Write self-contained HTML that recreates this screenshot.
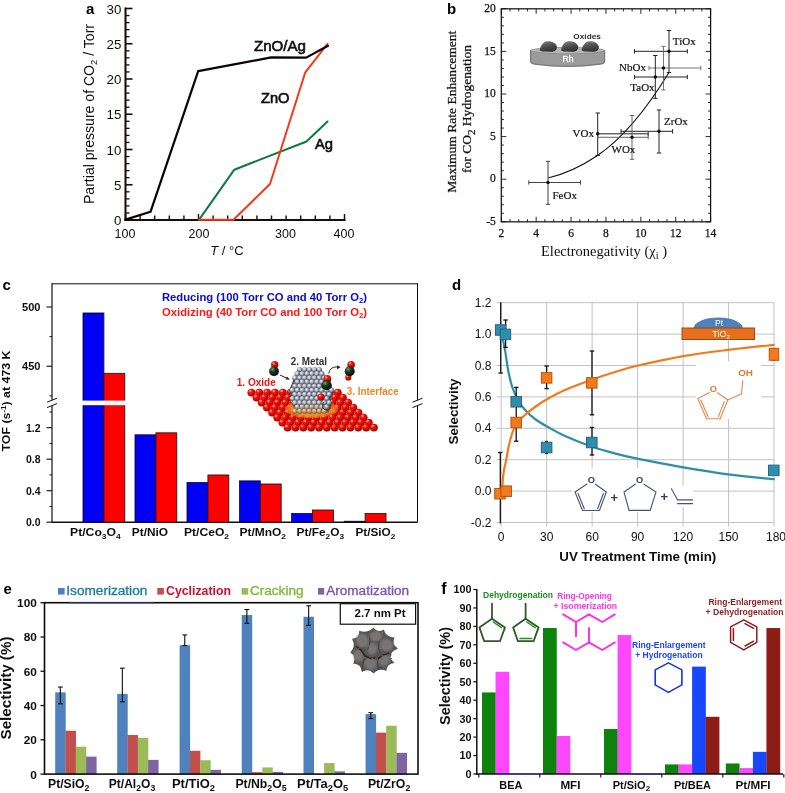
<!DOCTYPE html>
<html lang="en"><head><meta charset="utf-8"><title>Figure</title>
<style>
html,body{margin:0;padding:0;background:#fff;}
body{width:785px;height:793px;overflow:hidden;}
svg{display:block;font-family:"Liberation Sans",Arial,sans-serif;}
</style></head><body>
<svg width="785" height="793" viewBox="0 0 785 793">
<defs>
<radialGradient id="gr" cx="35%" cy="30%" r="70%"><stop offset="0" stop-color="#ffc8c0"/><stop offset="0.3" stop-color="#f01c0c"/><stop offset="0.8" stop-color="#c80000"/><stop offset="1" stop-color="#8a0000"/></radialGradient>
<radialGradient id="gg" cx="40%" cy="35%" r="65%"><stop offset="0" stop-color="#ffffff"/><stop offset="0.3" stop-color="#c2c8d2"/><stop offset="0.7" stop-color="#747c8c"/><stop offset="1" stop-color="#3a4050"/></radialGradient>
<radialGradient id="gd" cx="38%" cy="32%" r="68%"><stop offset="0" stop-color="#c8d0e0"/><stop offset="0.45" stop-color="#69728a"/><stop offset="1" stop-color="#2c3242"/></radialGradient>
<radialGradient id="gk" cx="35%" cy="30%" r="70%"><stop offset="0" stop-color="#7a9a7a"/><stop offset="0.4" stop-color="#1c3a22"/><stop offset="1" stop-color="#05100a"/></radialGradient>
<radialGradient id="go" cx="50%" cy="50%" r="50%"><stop offset="0" stop-color="#f58a10"/><stop offset="0.7" stop-color="#f59418"/><stop offset="1" stop-color="#f59a28" stop-opacity="0.35"/></radialGradient>
<filter id="soft" x="-5%" y="-5%" width="110%" height="110%"><feGaussianBlur stdDeviation="0.45"/></filter>
<filter id="soft3" x="-20%" y="-20%" width="140%" height="140%"><feGaussianBlur stdDeviation="0.9"/></filter>
<linearGradient id="gb" x1="0.2" y1="0" x2="0.6" y2="1"><stop offset="0" stop-color="#808080"/><stop offset="0.55" stop-color="#4a4a4a"/><stop offset="1" stop-color="#2e2e2e"/></linearGradient>
<filter id="gblur" filterUnits="userSpaceOnUse" x="0" y="0" width="785" height="793"><feGaussianBlur stdDeviation="0.38"/></filter>
<filter id="soft2" x="-5%" y="-5%" width="110%" height="110%"><feGaussianBlur stdDeviation="0.3"/></filter>
</defs>
<rect x="0" y="0" width="785" height="793" fill="#ffffff"/>
<g filter="url(#gblur)">

<g id="panel-a">
<text x="86" y="13.6" font-size="15" font-weight="bold" fill="#000" text-anchor="start" >a</text>
<line x1="125.5" y1="7.5" x2="125.5" y2="221.0" stroke="#1a0a0a" stroke-width="2" />
<line x1="124.5" y1="220.0" x2="345.5" y2="220.0" stroke="#1a0a0a" stroke-width="2" />
<line x1="125.5" y1="220.0" x2="132.5" y2="220.0" stroke="#1a0a0a" stroke-width="1.6" />
<line x1="125.5" y1="212.95" x2="129.5" y2="212.95" stroke="#1a0a0a" stroke-width="1.3" />
<line x1="125.5" y1="205.9" x2="129.5" y2="205.9" stroke="#1a0a0a" stroke-width="1.3" />
<line x1="125.5" y1="198.85" x2="129.5" y2="198.85" stroke="#1a0a0a" stroke-width="1.3" />
<line x1="125.5" y1="191.8" x2="129.5" y2="191.8" stroke="#1a0a0a" stroke-width="1.3" />
<line x1="125.5" y1="184.75" x2="132.5" y2="184.75" stroke="#1a0a0a" stroke-width="1.6" />
<line x1="125.5" y1="177.7" x2="129.5" y2="177.7" stroke="#1a0a0a" stroke-width="1.3" />
<line x1="125.5" y1="170.65" x2="129.5" y2="170.65" stroke="#1a0a0a" stroke-width="1.3" />
<line x1="125.5" y1="163.6" x2="129.5" y2="163.6" stroke="#1a0a0a" stroke-width="1.3" />
<line x1="125.5" y1="156.55" x2="129.5" y2="156.55" stroke="#1a0a0a" stroke-width="1.3" />
<line x1="125.5" y1="149.5" x2="132.5" y2="149.5" stroke="#1a0a0a" stroke-width="1.6" />
<line x1="125.5" y1="142.45" x2="129.5" y2="142.45" stroke="#1a0a0a" stroke-width="1.3" />
<line x1="125.5" y1="135.4" x2="129.5" y2="135.4" stroke="#1a0a0a" stroke-width="1.3" />
<line x1="125.5" y1="128.35000000000002" x2="129.5" y2="128.35000000000002" stroke="#1a0a0a" stroke-width="1.3" />
<line x1="125.5" y1="121.3" x2="129.5" y2="121.3" stroke="#1a0a0a" stroke-width="1.3" />
<line x1="125.5" y1="114.25" x2="132.5" y2="114.25" stroke="#1a0a0a" stroke-width="1.6" />
<line x1="125.5" y1="107.2" x2="129.5" y2="107.2" stroke="#1a0a0a" stroke-width="1.3" />
<line x1="125.5" y1="100.15" x2="129.5" y2="100.15" stroke="#1a0a0a" stroke-width="1.3" />
<line x1="125.5" y1="93.10000000000001" x2="129.5" y2="93.10000000000001" stroke="#1a0a0a" stroke-width="1.3" />
<line x1="125.5" y1="86.05000000000001" x2="129.5" y2="86.05000000000001" stroke="#1a0a0a" stroke-width="1.3" />
<line x1="125.5" y1="79.0" x2="132.5" y2="79.0" stroke="#1a0a0a" stroke-width="1.6" />
<line x1="125.5" y1="71.95000000000002" x2="129.5" y2="71.95000000000002" stroke="#1a0a0a" stroke-width="1.3" />
<line x1="125.5" y1="64.9" x2="129.5" y2="64.9" stroke="#1a0a0a" stroke-width="1.3" />
<line x1="125.5" y1="57.849999999999994" x2="129.5" y2="57.849999999999994" stroke="#1a0a0a" stroke-width="1.3" />
<line x1="125.5" y1="50.80000000000001" x2="129.5" y2="50.80000000000001" stroke="#1a0a0a" stroke-width="1.3" />
<line x1="125.5" y1="43.75" x2="132.5" y2="43.75" stroke="#1a0a0a" stroke-width="1.6" />
<line x1="125.5" y1="36.70000000000002" x2="129.5" y2="36.70000000000002" stroke="#1a0a0a" stroke-width="1.3" />
<line x1="125.5" y1="29.650000000000006" x2="129.5" y2="29.650000000000006" stroke="#1a0a0a" stroke-width="1.3" />
<line x1="125.5" y1="22.599999999999994" x2="129.5" y2="22.599999999999994" stroke="#1a0a0a" stroke-width="1.3" />
<line x1="125.5" y1="15.550000000000011" x2="129.5" y2="15.550000000000011" stroke="#1a0a0a" stroke-width="1.3" />
<line x1="125.5" y1="8.5" x2="132.5" y2="8.5" stroke="#1a0a0a" stroke-width="1.6" />
<text x="121.3" y="225.2" font-size="13.3" font-weight="normal" fill="#111" text-anchor="end" >0</text>
<text x="121.3" y="189.95" font-size="13.3" font-weight="normal" fill="#111" text-anchor="end" >5</text>
<text x="121.3" y="154.7" font-size="13.3" font-weight="normal" fill="#111" text-anchor="end" >10</text>
<text x="121.3" y="119.45" font-size="13.3" font-weight="normal" fill="#111" text-anchor="end" >15</text>
<text x="121.3" y="84.2" font-size="13.3" font-weight="normal" fill="#111" text-anchor="end" >20</text>
<text x="121.3" y="48.95" font-size="13.3" font-weight="normal" fill="#111" text-anchor="end" >25</text>
<text x="121.3" y="13.7" font-size="13.3" font-weight="normal" fill="#111" text-anchor="end" >30</text>
<line x1="125.5" y1="220.0" x2="125.5" y2="214.0" stroke="#1a0a0a" stroke-width="1.4" />
<line x1="140.1" y1="220.0" x2="140.1" y2="215.5" stroke="#1a0a0a" stroke-width="1.4" />
<line x1="154.7" y1="220.0" x2="154.7" y2="215.5" stroke="#1a0a0a" stroke-width="1.4" />
<line x1="169.3" y1="220.0" x2="169.3" y2="215.5" stroke="#1a0a0a" stroke-width="1.4" />
<line x1="183.9" y1="220.0" x2="183.9" y2="215.5" stroke="#1a0a0a" stroke-width="1.4" />
<line x1="198.5" y1="220.0" x2="198.5" y2="214.0" stroke="#1a0a0a" stroke-width="1.4" />
<line x1="213.1" y1="220.0" x2="213.1" y2="215.5" stroke="#1a0a0a" stroke-width="1.4" />
<line x1="227.7" y1="220.0" x2="227.7" y2="215.5" stroke="#1a0a0a" stroke-width="1.4" />
<line x1="242.3" y1="220.0" x2="242.3" y2="215.5" stroke="#1a0a0a" stroke-width="1.4" />
<line x1="256.9" y1="220.0" x2="256.9" y2="215.5" stroke="#1a0a0a" stroke-width="1.4" />
<line x1="271.5" y1="220.0" x2="271.5" y2="215.5" stroke="#1a0a0a" stroke-width="1.4" />
<line x1="286.1" y1="220.0" x2="286.1" y2="215.5" stroke="#1a0a0a" stroke-width="1.4" />
<line x1="300.7" y1="220.0" x2="300.7" y2="215.5" stroke="#1a0a0a" stroke-width="1.4" />
<line x1="315.29999999999995" y1="220.0" x2="315.29999999999995" y2="215.5" stroke="#1a0a0a" stroke-width="1.4" />
<line x1="329.9" y1="220.0" x2="329.9" y2="215.5" stroke="#1a0a0a" stroke-width="1.4" />
<line x1="344.5" y1="220.0" x2="344.5" y2="214.0" stroke="#1a0a0a" stroke-width="1.4" />
<text x="125" y="238" font-size="12.5" font-weight="normal" fill="#111" text-anchor="middle" >100</text>
<text x="199" y="238" font-size="12.5" font-weight="normal" fill="#111" text-anchor="middle" >200</text>
<text x="285.5" y="238" font-size="12.5" font-weight="normal" fill="#111" text-anchor="middle" >300</text>
<text x="344" y="238" font-size="12.5" font-weight="normal" fill="#111" text-anchor="middle" >400</text>
<text x="227" y="254.5" font-size="13" text-anchor="middle" fill="#111"><tspan font-style="italic">T</tspan> / °C</text>
<text transform="translate(93.8,114) rotate(-90)" font-size="14" text-anchor="middle" fill="#111" textLength="180" lengthAdjust="spacingAndGlyphs">Partial pressure of CO<tspan font-size="9.5" dy="3">2</tspan><tspan dy="-3"> / Torr</tspan></text>
<polyline points="199.00,219.80 234.30,169.70 306.50,141.50 327.50,121.50" fill="none" stroke="#0f7a3c" stroke-width="2" stroke-linejoin="round" stroke-linecap="round" />
<polyline points="199.00,219.80 233.50,219.80 270.00,184.00 305.30,72.30 327.50,43.80" fill="none" stroke="#f03a1e" stroke-width="2" stroke-linejoin="round" stroke-linecap="round" />
<polyline points="125.50,219.60 150.50,211.80 198.20,71.20 271.20,57.40 306.20,57.60 328.00,45.80" fill="none" stroke="#0a0606" stroke-width="2.2" stroke-linejoin="round" stroke-linecap="round" />
<text x="254" y="50.8" font-size="14" font-weight="normal" fill="#111" text-anchor="start" textLength="52" lengthAdjust="spacingAndGlyphs" stroke="#111" stroke-width="0.6">ZnO/Ag</text>
<text x="261" y="103.3" font-size="14" font-weight="normal" fill="#111" text-anchor="start" textLength="28.5" lengthAdjust="spacingAndGlyphs" stroke="#111" stroke-width="0.6">ZnO</text>
<text x="315" y="149" font-size="14" font-weight="normal" fill="#111" text-anchor="start" textLength="18" lengthAdjust="spacingAndGlyphs" stroke="#111" stroke-width="0.6">Ag</text>
</g>
<g id='panel-b' font-family='"Liberation Serif", "Times New Roman", serif'>
<text x="447" y="14" font-size="15" font-weight="bold" fill="#000" text-anchor="start" font-family='"Liberation Sans", Arial, sans-serif' >b</text>
<rect x="501.30" y="8.80" width="209.30" height="213.00" fill="none" stroke="#111" stroke-width="1.2" />
<line x1="501.3" y1="221.8" x2="501.3" y2="216.8" stroke="#111" stroke-width="0.9" />
<line x1="501.3" y1="8.8" x2="501.3" y2="13.8" stroke="#111" stroke-width="0.9" />
<line x1="510.02083333333337" y1="221.8" x2="510.02083333333337" y2="219.20000000000002" stroke="#111" stroke-width="0.9" />
<line x1="510.02083333333337" y1="8.8" x2="510.02083333333337" y2="11.4" stroke="#111" stroke-width="0.9" />
<line x1="518.7416666666667" y1="221.8" x2="518.7416666666667" y2="219.20000000000002" stroke="#111" stroke-width="0.9" />
<line x1="518.7416666666667" y1="8.8" x2="518.7416666666667" y2="11.4" stroke="#111" stroke-width="0.9" />
<line x1="527.4625" y1="221.8" x2="527.4625" y2="219.20000000000002" stroke="#111" stroke-width="0.9" />
<line x1="527.4625" y1="8.8" x2="527.4625" y2="11.4" stroke="#111" stroke-width="0.9" />
<line x1="536.1833333333334" y1="221.8" x2="536.1833333333334" y2="216.8" stroke="#111" stroke-width="0.9" />
<line x1="536.1833333333334" y1="8.8" x2="536.1833333333334" y2="13.8" stroke="#111" stroke-width="0.9" />
<line x1="544.9041666666667" y1="221.8" x2="544.9041666666667" y2="219.20000000000002" stroke="#111" stroke-width="0.9" />
<line x1="544.9041666666667" y1="8.8" x2="544.9041666666667" y2="11.4" stroke="#111" stroke-width="0.9" />
<line x1="553.625" y1="221.8" x2="553.625" y2="219.20000000000002" stroke="#111" stroke-width="0.9" />
<line x1="553.625" y1="8.8" x2="553.625" y2="11.4" stroke="#111" stroke-width="0.9" />
<line x1="562.3458333333333" y1="221.8" x2="562.3458333333333" y2="219.20000000000002" stroke="#111" stroke-width="0.9" />
<line x1="562.3458333333333" y1="8.8" x2="562.3458333333333" y2="11.4" stroke="#111" stroke-width="0.9" />
<line x1="571.0666666666667" y1="221.8" x2="571.0666666666667" y2="216.8" stroke="#111" stroke-width="0.9" />
<line x1="571.0666666666667" y1="8.8" x2="571.0666666666667" y2="13.8" stroke="#111" stroke-width="0.9" />
<line x1="579.7875" y1="221.8" x2="579.7875" y2="219.20000000000002" stroke="#111" stroke-width="0.9" />
<line x1="579.7875" y1="8.8" x2="579.7875" y2="11.4" stroke="#111" stroke-width="0.9" />
<line x1="588.5083333333333" y1="221.8" x2="588.5083333333333" y2="219.20000000000002" stroke="#111" stroke-width="0.9" />
<line x1="588.5083333333333" y1="8.8" x2="588.5083333333333" y2="11.4" stroke="#111" stroke-width="0.9" />
<line x1="597.2291666666667" y1="221.8" x2="597.2291666666667" y2="219.20000000000002" stroke="#111" stroke-width="0.9" />
<line x1="597.2291666666667" y1="8.8" x2="597.2291666666667" y2="11.4" stroke="#111" stroke-width="0.9" />
<line x1="605.95" y1="221.8" x2="605.95" y2="216.8" stroke="#111" stroke-width="0.9" />
<line x1="605.95" y1="8.8" x2="605.95" y2="13.8" stroke="#111" stroke-width="0.9" />
<line x1="614.6708333333333" y1="221.8" x2="614.6708333333333" y2="219.20000000000002" stroke="#111" stroke-width="0.9" />
<line x1="614.6708333333333" y1="8.8" x2="614.6708333333333" y2="11.4" stroke="#111" stroke-width="0.9" />
<line x1="623.3916666666667" y1="221.8" x2="623.3916666666667" y2="219.20000000000002" stroke="#111" stroke-width="0.9" />
<line x1="623.3916666666667" y1="8.8" x2="623.3916666666667" y2="11.4" stroke="#111" stroke-width="0.9" />
<line x1="632.1125" y1="221.8" x2="632.1125" y2="219.20000000000002" stroke="#111" stroke-width="0.9" />
<line x1="632.1125" y1="8.8" x2="632.1125" y2="11.4" stroke="#111" stroke-width="0.9" />
<line x1="640.8333333333334" y1="221.8" x2="640.8333333333334" y2="216.8" stroke="#111" stroke-width="0.9" />
<line x1="640.8333333333334" y1="8.8" x2="640.8333333333334" y2="13.8" stroke="#111" stroke-width="0.9" />
<line x1="649.5541666666667" y1="221.8" x2="649.5541666666667" y2="219.20000000000002" stroke="#111" stroke-width="0.9" />
<line x1="649.5541666666667" y1="8.8" x2="649.5541666666667" y2="11.4" stroke="#111" stroke-width="0.9" />
<line x1="658.275" y1="221.8" x2="658.275" y2="219.20000000000002" stroke="#111" stroke-width="0.9" />
<line x1="658.275" y1="8.8" x2="658.275" y2="11.4" stroke="#111" stroke-width="0.9" />
<line x1="666.9958333333334" y1="221.8" x2="666.9958333333334" y2="219.20000000000002" stroke="#111" stroke-width="0.9" />
<line x1="666.9958333333334" y1="8.8" x2="666.9958333333334" y2="11.4" stroke="#111" stroke-width="0.9" />
<line x1="675.7166666666667" y1="221.8" x2="675.7166666666667" y2="216.8" stroke="#111" stroke-width="0.9" />
<line x1="675.7166666666667" y1="8.8" x2="675.7166666666667" y2="13.8" stroke="#111" stroke-width="0.9" />
<line x1="684.4375" y1="221.8" x2="684.4375" y2="219.20000000000002" stroke="#111" stroke-width="0.9" />
<line x1="684.4375" y1="8.8" x2="684.4375" y2="11.4" stroke="#111" stroke-width="0.9" />
<line x1="693.1583333333333" y1="221.8" x2="693.1583333333333" y2="219.20000000000002" stroke="#111" stroke-width="0.9" />
<line x1="693.1583333333333" y1="8.8" x2="693.1583333333333" y2="11.4" stroke="#111" stroke-width="0.9" />
<line x1="701.8791666666667" y1="221.8" x2="701.8791666666667" y2="219.20000000000002" stroke="#111" stroke-width="0.9" />
<line x1="701.8791666666667" y1="8.8" x2="701.8791666666667" y2="11.4" stroke="#111" stroke-width="0.9" />
<line x1="710.6" y1="221.8" x2="710.6" y2="216.8" stroke="#111" stroke-width="0.9" />
<line x1="710.6" y1="8.8" x2="710.6" y2="13.8" stroke="#111" stroke-width="0.9" />
<line x1="501.3" y1="221.8" x2="506.3" y2="221.8" stroke="#111" stroke-width="0.9" />
<line x1="710.6" y1="221.8" x2="705.6" y2="221.8" stroke="#111" stroke-width="0.9" />
<line x1="501.3" y1="213.28" x2="503.90000000000003" y2="213.28" stroke="#111" stroke-width="0.9" />
<line x1="710.6" y1="213.28" x2="708.0" y2="213.28" stroke="#111" stroke-width="0.9" />
<line x1="501.3" y1="204.76000000000002" x2="503.90000000000003" y2="204.76000000000002" stroke="#111" stroke-width="0.9" />
<line x1="710.6" y1="204.76000000000002" x2="708.0" y2="204.76000000000002" stroke="#111" stroke-width="0.9" />
<line x1="501.3" y1="196.24" x2="503.90000000000003" y2="196.24" stroke="#111" stroke-width="0.9" />
<line x1="710.6" y1="196.24" x2="708.0" y2="196.24" stroke="#111" stroke-width="0.9" />
<line x1="501.3" y1="187.72000000000003" x2="503.90000000000003" y2="187.72000000000003" stroke="#111" stroke-width="0.9" />
<line x1="710.6" y1="187.72000000000003" x2="708.0" y2="187.72000000000003" stroke="#111" stroke-width="0.9" />
<line x1="501.3" y1="179.20000000000002" x2="506.3" y2="179.20000000000002" stroke="#111" stroke-width="0.9" />
<line x1="710.6" y1="179.20000000000002" x2="705.6" y2="179.20000000000002" stroke="#111" stroke-width="0.9" />
<line x1="501.3" y1="170.68" x2="503.90000000000003" y2="170.68" stroke="#111" stroke-width="0.9" />
<line x1="710.6" y1="170.68" x2="708.0" y2="170.68" stroke="#111" stroke-width="0.9" />
<line x1="501.3" y1="162.16000000000003" x2="503.90000000000003" y2="162.16000000000003" stroke="#111" stroke-width="0.9" />
<line x1="710.6" y1="162.16000000000003" x2="708.0" y2="162.16000000000003" stroke="#111" stroke-width="0.9" />
<line x1="501.3" y1="153.64000000000001" x2="503.90000000000003" y2="153.64000000000001" stroke="#111" stroke-width="0.9" />
<line x1="710.6" y1="153.64000000000001" x2="708.0" y2="153.64000000000001" stroke="#111" stroke-width="0.9" />
<line x1="501.3" y1="145.12" x2="503.90000000000003" y2="145.12" stroke="#111" stroke-width="0.9" />
<line x1="710.6" y1="145.12" x2="708.0" y2="145.12" stroke="#111" stroke-width="0.9" />
<line x1="501.3" y1="136.60000000000002" x2="506.3" y2="136.60000000000002" stroke="#111" stroke-width="0.9" />
<line x1="710.6" y1="136.60000000000002" x2="705.6" y2="136.60000000000002" stroke="#111" stroke-width="0.9" />
<line x1="501.3" y1="128.08" x2="503.90000000000003" y2="128.08" stroke="#111" stroke-width="0.9" />
<line x1="710.6" y1="128.08" x2="708.0" y2="128.08" stroke="#111" stroke-width="0.9" />
<line x1="501.3" y1="119.56000000000002" x2="503.90000000000003" y2="119.56000000000002" stroke="#111" stroke-width="0.9" />
<line x1="710.6" y1="119.56000000000002" x2="708.0" y2="119.56000000000002" stroke="#111" stroke-width="0.9" />
<line x1="501.3" y1="111.04" x2="503.90000000000003" y2="111.04" stroke="#111" stroke-width="0.9" />
<line x1="710.6" y1="111.04" x2="708.0" y2="111.04" stroke="#111" stroke-width="0.9" />
<line x1="501.3" y1="102.52000000000001" x2="503.90000000000003" y2="102.52000000000001" stroke="#111" stroke-width="0.9" />
<line x1="710.6" y1="102.52000000000001" x2="708.0" y2="102.52000000000001" stroke="#111" stroke-width="0.9" />
<line x1="501.3" y1="94.00000000000001" x2="506.3" y2="94.00000000000001" stroke="#111" stroke-width="0.9" />
<line x1="710.6" y1="94.00000000000001" x2="705.6" y2="94.00000000000001" stroke="#111" stroke-width="0.9" />
<line x1="501.3" y1="85.48000000000002" x2="503.90000000000003" y2="85.48000000000002" stroke="#111" stroke-width="0.9" />
<line x1="710.6" y1="85.48000000000002" x2="708.0" y2="85.48000000000002" stroke="#111" stroke-width="0.9" />
<line x1="501.3" y1="76.96000000000001" x2="503.90000000000003" y2="76.96000000000001" stroke="#111" stroke-width="0.9" />
<line x1="710.6" y1="76.96000000000001" x2="708.0" y2="76.96000000000001" stroke="#111" stroke-width="0.9" />
<line x1="501.3" y1="68.44" x2="503.90000000000003" y2="68.44" stroke="#111" stroke-width="0.9" />
<line x1="710.6" y1="68.44" x2="708.0" y2="68.44" stroke="#111" stroke-width="0.9" />
<line x1="501.3" y1="59.920000000000016" x2="503.90000000000003" y2="59.920000000000016" stroke="#111" stroke-width="0.9" />
<line x1="710.6" y1="59.920000000000016" x2="708.0" y2="59.920000000000016" stroke="#111" stroke-width="0.9" />
<line x1="501.3" y1="51.400000000000006" x2="506.3" y2="51.400000000000006" stroke="#111" stroke-width="0.9" />
<line x1="710.6" y1="51.400000000000006" x2="705.6" y2="51.400000000000006" stroke="#111" stroke-width="0.9" />
<line x1="501.3" y1="42.880000000000024" x2="503.90000000000003" y2="42.880000000000024" stroke="#111" stroke-width="0.9" />
<line x1="710.6" y1="42.880000000000024" x2="708.0" y2="42.880000000000024" stroke="#111" stroke-width="0.9" />
<line x1="501.3" y1="34.360000000000014" x2="503.90000000000003" y2="34.360000000000014" stroke="#111" stroke-width="0.9" />
<line x1="710.6" y1="34.360000000000014" x2="708.0" y2="34.360000000000014" stroke="#111" stroke-width="0.9" />
<line x1="501.3" y1="25.840000000000003" x2="503.90000000000003" y2="25.840000000000003" stroke="#111" stroke-width="0.9" />
<line x1="710.6" y1="25.840000000000003" x2="708.0" y2="25.840000000000003" stroke="#111" stroke-width="0.9" />
<line x1="501.3" y1="17.32000000000002" x2="503.90000000000003" y2="17.32000000000002" stroke="#111" stroke-width="0.9" />
<line x1="710.6" y1="17.32000000000002" x2="708.0" y2="17.32000000000002" stroke="#111" stroke-width="0.9" />
<line x1="501.3" y1="8.800000000000011" x2="506.3" y2="8.800000000000011" stroke="#111" stroke-width="0.9" />
<line x1="710.6" y1="8.800000000000011" x2="705.6" y2="8.800000000000011" stroke="#111" stroke-width="0.9" />
<text x="495.8" y="12.00000000000001" font-size="11.5" font-weight="normal" fill="#111" text-anchor="end" stroke="#111" stroke-width="0.25">20</text>
<text x="495.8" y="54.60000000000001" font-size="11.5" font-weight="normal" fill="#111" text-anchor="end" stroke="#111" stroke-width="0.25">15</text>
<text x="495.8" y="97.20000000000002" font-size="11.5" font-weight="normal" fill="#111" text-anchor="end" stroke="#111" stroke-width="0.25">10</text>
<text x="495.8" y="139.8" font-size="11.5" font-weight="normal" fill="#111" text-anchor="end" stroke="#111" stroke-width="0.25">5</text>
<text x="495.8" y="182.4" font-size="11.5" font-weight="normal" fill="#111" text-anchor="end" stroke="#111" stroke-width="0.25">0</text>
<text x="495.8" y="225.0" font-size="11.5" font-weight="normal" fill="#111" text-anchor="end" stroke="#111" stroke-width="0.25">-5</text>
<text x="501.3" y="237.3" font-size="11.5" font-weight="normal" fill="#111" text-anchor="middle" stroke="#111" stroke-width="0.25">2</text>
<text x="536.1833333333334" y="237.3" font-size="11.5" font-weight="normal" fill="#111" text-anchor="middle" stroke="#111" stroke-width="0.25">4</text>
<text x="571.0666666666667" y="237.3" font-size="11.5" font-weight="normal" fill="#111" text-anchor="middle" stroke="#111" stroke-width="0.25">6</text>
<text x="605.95" y="237.3" font-size="11.5" font-weight="normal" fill="#111" text-anchor="middle" stroke="#111" stroke-width="0.25">8</text>
<text x="640.8333333333334" y="237.3" font-size="11.5" font-weight="normal" fill="#111" text-anchor="middle" stroke="#111" stroke-width="0.25">10</text>
<text x="675.7166666666667" y="237.3" font-size="11.5" font-weight="normal" fill="#111" text-anchor="middle" stroke="#111" stroke-width="0.25">12</text>
<text x="710.6" y="237.3" font-size="11.5" font-weight="normal" fill="#111" text-anchor="middle" stroke="#111" stroke-width="0.25">14</text>
<text x="541" y="256" font-size="14" fill="#111" textLength="126" lengthAdjust="spacingAndGlyphs">Electronegativity (χ<tspan font-size="10" dy="3">i</tspan><tspan dy="-3"> )</tspan></text>
<text transform="translate(455.5,111.7) rotate(-90)" font-size="13.5" text-anchor="middle" fill="#111" textLength="162" lengthAdjust="spacingAndGlyphs" stroke="#111" stroke-width="0.25">Maximum Rate Enhancement</text>
<text transform="translate(471,109) rotate(-90)" font-size="13.5" text-anchor="middle" fill="#111" textLength="128" lengthAdjust="spacingAndGlyphs" stroke="#111" stroke-width="0.25">for CO<tspan font-size="11" dy="4">2</tspan><tspan dy="-4"> Hydrogenation</tspan></text>
<path d="M548,178 C 565,174 582,166 597.5,155.5 C 622,139 646,110 669,72.5" fill="none" stroke="#111" stroke-width="1.1"/>
<line x1="634.5" y1="51.3" x2="687.3" y2="51.3" stroke="#222" stroke-width="1.0" />
<line x1="669" y1="30.5" x2="669" y2="72.5" stroke="#222" stroke-width="1.0" />
<line x1="634.5" y1="49.099999999999994" x2="634.5" y2="53.5" stroke="#222" stroke-width="1.0" />
<line x1="687.3" y1="49.099999999999994" x2="687.3" y2="53.5" stroke="#222" stroke-width="1.0" />
<line x1="666.8" y1="30.5" x2="671.2" y2="30.5" stroke="#222" stroke-width="1.0" />
<line x1="666.8" y1="72.5" x2="671.2" y2="72.5" stroke="#222" stroke-width="1.0" />
<circle cx="669" cy="51.3" r="1.7" fill="#111"/>
<line x1="649" y1="68" x2="700.8" y2="68" stroke="#666" stroke-width="0.9" />
<line x1="663.5" y1="46.3" x2="663.5" y2="90" stroke="#666" stroke-width="0.9" />
<line x1="649" y1="65.8" x2="649" y2="70.2" stroke="#666" stroke-width="0.9" />
<line x1="700.8" y1="65.8" x2="700.8" y2="70.2" stroke="#666" stroke-width="0.9" />
<line x1="661.3" y1="46.3" x2="665.7" y2="46.3" stroke="#666" stroke-width="0.9" />
<line x1="661.3" y1="90" x2="665.7" y2="90" stroke="#666" stroke-width="0.9" />
<circle cx="663.5" cy="68" r="1.7" fill="#111"/>
<line x1="634.5" y1="77" x2="687.3" y2="77" stroke="#222" stroke-width="1.0" />
<line x1="655.3" y1="55.5" x2="655.3" y2="98.3" stroke="#222" stroke-width="1.0" />
<line x1="634.5" y1="74.8" x2="634.5" y2="79.2" stroke="#222" stroke-width="1.0" />
<line x1="687.3" y1="74.8" x2="687.3" y2="79.2" stroke="#222" stroke-width="1.0" />
<line x1="653.0999999999999" y1="55.5" x2="657.5" y2="55.5" stroke="#222" stroke-width="1.0" />
<line x1="653.0999999999999" y1="98.3" x2="657.5" y2="98.3" stroke="#222" stroke-width="1.0" />
<circle cx="655.3" cy="77" r="1.7" fill="#111"/>
<line x1="621" y1="131.3" x2="672.6" y2="131.3" stroke="#222" stroke-width="1.0" />
<line x1="659" y1="110" x2="659" y2="153" stroke="#222" stroke-width="1.0" />
<line x1="621" y1="129.10000000000002" x2="621" y2="133.5" stroke="#222" stroke-width="1.0" />
<line x1="672.6" y1="129.10000000000002" x2="672.6" y2="133.5" stroke="#222" stroke-width="1.0" />
<line x1="656.8" y1="110" x2="661.2" y2="110" stroke="#222" stroke-width="1.0" />
<line x1="656.8" y1="153" x2="661.2" y2="153" stroke="#222" stroke-width="1.0" />
<circle cx="659" cy="131.3" r="1.7" fill="#111"/>
<line x1="597.7" y1="133.8" x2="648.2" y2="133.8" stroke="#222" stroke-width="1.0" />
<line x1="597.7" y1="113" x2="597.7" y2="155.5" stroke="#222" stroke-width="1.0" />
<line x1="597.7" y1="131.60000000000002" x2="597.7" y2="136.0" stroke="#222" stroke-width="1.0" />
<line x1="648.2" y1="131.60000000000002" x2="648.2" y2="136.0" stroke="#222" stroke-width="1.0" />
<line x1="595.5" y1="113" x2="599.9000000000001" y2="113" stroke="#222" stroke-width="1.0" />
<line x1="595.5" y1="155.5" x2="599.9000000000001" y2="155.5" stroke="#222" stroke-width="1.0" />
<circle cx="597.7" cy="133.8" r="1.7" fill="#111"/>
<line x1="597.7" y1="137.3" x2="648.2" y2="137.3" stroke="#555" stroke-width="0.9" />
<line x1="632" y1="115.5" x2="632" y2="159.3" stroke="#555" stroke-width="0.9" />
<line x1="597.7" y1="135.10000000000002" x2="597.7" y2="139.5" stroke="#555" stroke-width="0.9" />
<line x1="648.2" y1="135.10000000000002" x2="648.2" y2="139.5" stroke="#555" stroke-width="0.9" />
<line x1="629.8" y1="115.5" x2="634.2" y2="115.5" stroke="#555" stroke-width="0.9" />
<line x1="629.8" y1="159.3" x2="634.2" y2="159.3" stroke="#555" stroke-width="0.9" />
<circle cx="632" cy="137.3" r="1.7" fill="#111"/>
<line x1="528.8" y1="182.5" x2="580.5" y2="182.5" stroke="#444" stroke-width="1.0" />
<line x1="548" y1="161.3" x2="548" y2="204.3" stroke="#444" stroke-width="1.0" />
<line x1="528.8" y1="180.3" x2="528.8" y2="184.7" stroke="#444" stroke-width="1.0" />
<line x1="580.5" y1="180.3" x2="580.5" y2="184.7" stroke="#444" stroke-width="1.0" />
<line x1="545.8" y1="161.3" x2="550.2" y2="161.3" stroke="#444" stroke-width="1.0" />
<line x1="545.8" y1="204.3" x2="550.2" y2="204.3" stroke="#444" stroke-width="1.0" />
<circle cx="548" cy="182.5" r="1.7" fill="#111"/>
<text x="672.8" y="44.5" font-size="11" font-weight="normal" fill="#111" text-anchor="start" stroke="#111" stroke-width="0.2">TiOx</text>
<text x="619" y="70.5" font-size="11" font-weight="normal" fill="#111" text-anchor="start" stroke="#111" stroke-width="0.2">NbOx</text>
<text x="630.3" y="90.5" font-size="11" font-weight="normal" fill="#111" text-anchor="start" stroke="#111" stroke-width="0.2">TaOx</text>
<text x="664" y="124.6" font-size="11" font-weight="normal" fill="#111" text-anchor="start" stroke="#111" stroke-width="0.2">ZrOx</text>
<text x="572.5" y="136.8" font-size="11" font-weight="normal" fill="#111" text-anchor="start" stroke="#111" stroke-width="0.2">VOx</text>
<text x="611.5" y="152.6" font-size="11" font-weight="normal" fill="#111" text-anchor="start" stroke="#111" stroke-width="0.2">WOx</text>
<text x="552.5" y="198.5" font-size="11" font-weight="normal" fill="#111" text-anchor="start" stroke="#111" stroke-width="0.2">FeOx</text>
<g filter="url(#soft2)">
<path d="M530.6,50.5 L530.6,61 Q530.6,63.4 535,64.2 Q568,68.6 600,64.2 Q604.6,63.4 604.6,61 L604.6,50.5 Z" fill="#9b9b9b" stroke="#787878" stroke-width="1.2"/>
<ellipse cx="567.6" cy="50.6" rx="37" ry="3.2" fill="#b6b6b6" stroke="#8a8a8a" stroke-width="0.8"/>
<path d="M539.6999999999999,50.6 C540.3,45 543.8,41.4 547.3,41.2 C551.3,41 555.8,42.6 556.9,46.5 C557.3,49 555.3,51.6 552.3,51.8 L542.3,51.6 Z" fill="url(#gb)"/>
<path d="M561.0,50.6 C561.6,45 565.1,41.4 568.6,41.2 C572.6,41 577.1,42.6 578.2,46.5 C578.6,49 576.6,51.6 573.6,51.8 L563.6,51.6 Z" fill="url(#gb)"/>
<path d="M581.6,50.6 C582.2,45 585.7,41.4 589.2,41.2 C593.2,41 597.7,42.6 598.8000000000001,46.5 C599.2,49 597.2,51.6 594.2,51.8 L584.2,51.6 Z" fill="url(#gb)"/>
</g>
<text x="573.3" y="39.1" font-size="7.8" font-weight="bold" fill="#2e2e2e" text-anchor="start" font-family='"Liberation Sans", Arial, sans-serif' textLength="27.6" lengthAdjust="spacingAndGlyphs" >Oxides</text>
<text x="562.6" y="62" font-size="9.2" font-weight="normal" fill="#fff" text-anchor="start" font-family='"Liberation Sans", Arial, sans-serif' textLength="11" lengthAdjust="spacingAndGlyphs" stroke="#fff" stroke-width="0.3">Rh</text>
</g>
<g id="panel-c">
<text x="2.5" y="289.5" font-size="15" font-weight="bold" fill="#000" text-anchor="start" >c</text>
<line x1="52" y1="283.8" x2="417.5" y2="283.8" stroke="#111" stroke-width="1" />
<line x1="52" y1="283.3" x2="52" y2="522.2" stroke="#111" stroke-width="1.2" />
<line x1="417.5" y1="283.3" x2="417.5" y2="522.2" stroke="#111" stroke-width="1" />
<line x1="52" y1="522.2" x2="417.5" y2="522.2" stroke="#111" stroke-width="1.4" />
<rect x="83.00" y="313.00" width="20.90" height="209.20" fill="#0000f5" stroke="#111" stroke-width="0.8" />
<rect x="103.90" y="373.30" width="20.90" height="148.90" fill="#ff0000" stroke="#111" stroke-width="0.8" />
<rect x="135.00" y="434.79" width="20.90" height="87.41" fill="#0000f5" stroke="#111" stroke-width="0.8" />
<rect x="155.90" y="432.82" width="20.90" height="89.38" fill="#ff0000" stroke="#111" stroke-width="0.8" />
<rect x="187.00" y="482.43" width="20.90" height="39.77" fill="#0000f5" stroke="#111" stroke-width="0.8" />
<rect x="207.90" y="474.95" width="20.90" height="47.25" fill="#ff0000" stroke="#111" stroke-width="0.8" />
<rect x="239.40" y="480.86" width="20.90" height="41.34" fill="#0000f5" stroke="#111" stroke-width="0.8" />
<rect x="260.30" y="484.01" width="20.90" height="38.19" fill="#ff0000" stroke="#111" stroke-width="0.8" />
<rect x="291.60" y="513.38" width="20.90" height="8.82" fill="#0000f5" stroke="#111" stroke-width="0.8" />
<rect x="312.50" y="509.99" width="20.90" height="12.21" fill="#ff0000" stroke="#111" stroke-width="0.8" />
<rect x="344.20" y="521.25" width="20.90" height="0.95" fill="#0000f5" stroke="#111" stroke-width="0.8" />
<rect x="365.10" y="513.38" width="20.90" height="8.82" fill="#ff0000" stroke="#111" stroke-width="0.8" />
<rect x="56.00" y="400.60" width="357.50" height="4.60" fill="#fff" stroke="none" stroke-width="0" />
<rect x="49.00" y="400.20" width="6.00" height="5.40" fill="#fff" stroke="none" stroke-width="0" />
<line x1="47" y1="402.2" x2="57" y2="398.2" stroke="#111" stroke-width="1" />
<line x1="47" y1="407.6" x2="57" y2="403.6" stroke="#111" stroke-width="1" />
<rect x="414.50" y="400.20" width="6.00" height="5.40" fill="#fff" stroke="none" stroke-width="0" />
<line x1="412.5" y1="402.2" x2="422.5" y2="398.2" stroke="#111" stroke-width="1" />
<line x1="412.5" y1="407.6" x2="422.5" y2="403.6" stroke="#111" stroke-width="1" />
<line x1="46.5" y1="522.2" x2="52" y2="522.2" stroke="#111" stroke-width="1.1" />
<text x="40.5" y="526.0" font-size="10.5" font-weight="bold" fill="#111" text-anchor="end" textLength="14.6" lengthAdjust="spacingAndGlyphs" >0.0</text>
<line x1="46.5" y1="490.70000000000005" x2="52" y2="490.70000000000005" stroke="#111" stroke-width="1.1" />
<text x="40.5" y="494.50000000000006" font-size="10.5" font-weight="bold" fill="#111" text-anchor="end" textLength="14.6" lengthAdjust="spacingAndGlyphs" >0.4</text>
<line x1="46.5" y1="459.20000000000005" x2="52" y2="459.20000000000005" stroke="#111" stroke-width="1.1" />
<text x="40.5" y="463.00000000000006" font-size="10.5" font-weight="bold" fill="#111" text-anchor="end" textLength="14.6" lengthAdjust="spacingAndGlyphs" >0.8</text>
<line x1="46.5" y1="427.70000000000005" x2="52" y2="427.70000000000005" stroke="#111" stroke-width="1.1" />
<text x="40.5" y="431.50000000000006" font-size="10.5" font-weight="bold" fill="#111" text-anchor="end" textLength="14.6" lengthAdjust="spacingAndGlyphs" >1.2</text>
<line x1="49.5" y1="506.45000000000005" x2="52" y2="506.45000000000005" stroke="#111" stroke-width="1" />
<line x1="49.5" y1="474.95000000000005" x2="52" y2="474.95000000000005" stroke="#111" stroke-width="1" />
<line x1="49.5" y1="443.45000000000005" x2="52" y2="443.45000000000005" stroke="#111" stroke-width="1" />
<line x1="49.5" y1="411.95000000000005" x2="52" y2="411.95000000000005" stroke="#111" stroke-width="1" />
<line x1="46.5" y1="366.25" x2="52" y2="366.25" stroke="#111" stroke-width="1.1" />
<text x="40.5" y="370.05" font-size="10.5" font-weight="bold" fill="#111" text-anchor="end" textLength="18.5" lengthAdjust="spacingAndGlyphs" >450</text>
<line x1="46.5" y1="307.0" x2="52" y2="307.0" stroke="#111" stroke-width="1.1" />
<text x="40.5" y="310.8" font-size="10.5" font-weight="bold" fill="#111" text-anchor="end" textLength="18.5" lengthAdjust="spacingAndGlyphs" >500</text>
<line x1="49.5" y1="395.875" x2="52" y2="395.875" stroke="#111" stroke-width="1" />
<line x1="49.5" y1="336.625" x2="52" y2="336.625" stroke="#111" stroke-width="1" />
<text transform="translate(10.2,401) rotate(-90)" font-size="11.5" font-weight="bold" text-anchor="middle" fill="#111" textLength="101" lengthAdjust="spacingAndGlyphs">TOF (s<tspan font-size="7.5" dy="-4">-1</tspan><tspan dy="4">) at 473 K</tspan></text>
<text x="70" y="536" font-size="11.5" font-weight="bold" fill="#111" text-anchor="start" textLength="50.8" lengthAdjust="spacingAndGlyphs" >Pt/Co<tspan font-size="8" dy="2.5">3</tspan><tspan dy="-2.5">&#8203;</tspan>O<tspan font-size="8" dy="2.5">4</tspan><tspan dy="-2.5">&#8203;</tspan></text>
<text x="131.8" y="536" font-size="11.5" font-weight="bold" fill="#111" text-anchor="start" textLength="36.3" lengthAdjust="spacingAndGlyphs" >Pt/NiO</text>
<text x="184" y="536" font-size="11.5" font-weight="bold" fill="#111" text-anchor="start" textLength="45" lengthAdjust="spacingAndGlyphs" >Pt/CeO<tspan font-size="8" dy="2.5">2</tspan><tspan dy="-2.5">&#8203;</tspan></text>
<text x="239.6" y="536" font-size="11.5" font-weight="bold" fill="#111" text-anchor="start" textLength="46.4" lengthAdjust="spacingAndGlyphs" >Pt/MnO<tspan font-size="8" dy="2.5">2</tspan><tspan dy="-2.5">&#8203;</tspan></text>
<text x="296.6" y="536" font-size="11.5" font-weight="bold" fill="#111" text-anchor="start" textLength="47.4" lengthAdjust="spacingAndGlyphs" >Pt/Fe<tspan font-size="8" dy="2.5">2</tspan><tspan dy="-2.5">&#8203;</tspan>O<tspan font-size="8" dy="2.5">3</tspan><tspan dy="-2.5">&#8203;</tspan></text>
<text x="355.5" y="536" font-size="11.5" font-weight="bold" fill="#111" text-anchor="start" textLength="39.8" lengthAdjust="spacingAndGlyphs" >Pt/SiO<tspan font-size="8" dy="2.5">2</tspan><tspan dy="-2.5">&#8203;</tspan></text>
<text x="162" y="300.8" font-size="10.3" font-weight="bold" fill="#0808d6" textLength="205" lengthAdjust="spacingAndGlyphs">Reducing (100 Torr CO and 40 Torr O<tspan font-size="7" dy="2">2</tspan><tspan dy="-2">)</tspan></text>
<text x="162" y="316.3" font-size="10.3" font-weight="bold" fill="#ff1414" textLength="205" lengthAdjust="spacingAndGlyphs">Oxidizing (40 Torr CO and 100 Torr O<tspan font-size="7" dy="2">2</tspan><tspan dy="-2">)</tspan></text>
<g filter="url(#soft2)">
<circle cx="251.4" cy="392.6" r="3.95" fill="url(#gr)"/>
<circle cx="259.2" cy="392.6" r="3.95" fill="url(#gr)"/>
<circle cx="267.1" cy="392.6" r="3.95" fill="url(#gr)"/>
<circle cx="274.9" cy="392.6" r="3.95" fill="url(#gr)"/>
<circle cx="282.8" cy="392.6" r="3.95" fill="url(#gr)"/>
<circle cx="290.6" cy="392.6" r="3.95" fill="url(#gr)"/>
<circle cx="298.5" cy="392.6" r="3.95" fill="url(#gr)"/>
<circle cx="306.4" cy="392.6" r="3.95" fill="url(#gr)"/>
<circle cx="314.2" cy="392.6" r="3.95" fill="url(#gr)"/>
<circle cx="322.1" cy="392.6" r="3.95" fill="url(#gr)"/>
<circle cx="329.9" cy="392.6" r="3.95" fill="url(#gr)"/>
<circle cx="337.8" cy="392.6" r="3.95" fill="url(#gr)"/>
<circle cx="256.6" cy="397.6" r="3.95" fill="url(#gr)"/>
<circle cx="264.4" cy="397.6" r="3.95" fill="url(#gr)"/>
<circle cx="272.3" cy="397.6" r="3.95" fill="url(#gr)"/>
<circle cx="280.1" cy="397.6" r="3.95" fill="url(#gr)"/>
<circle cx="288.0" cy="397.6" r="3.95" fill="url(#gr)"/>
<circle cx="295.8" cy="397.6" r="3.95" fill="url(#gr)"/>
<circle cx="303.7" cy="397.6" r="3.95" fill="url(#gr)"/>
<circle cx="311.5" cy="397.6" r="3.95" fill="url(#gr)"/>
<circle cx="319.4" cy="397.6" r="3.95" fill="url(#gr)"/>
<circle cx="327.2" cy="397.6" r="3.95" fill="url(#gr)"/>
<circle cx="335.1" cy="397.6" r="3.95" fill="url(#gr)"/>
<circle cx="342.9" cy="397.6" r="3.95" fill="url(#gr)"/>
<circle cx="261.7" cy="402.6" r="3.95" fill="url(#gr)"/>
<circle cx="269.6" cy="402.6" r="3.95" fill="url(#gr)"/>
<circle cx="277.4" cy="402.6" r="3.95" fill="url(#gr)"/>
<circle cx="285.3" cy="402.6" r="3.95" fill="url(#gr)"/>
<circle cx="293.1" cy="402.6" r="3.95" fill="url(#gr)"/>
<circle cx="301.0" cy="402.6" r="3.95" fill="url(#gr)"/>
<circle cx="308.8" cy="402.6" r="3.95" fill="url(#gr)"/>
<circle cx="316.7" cy="402.6" r="3.95" fill="url(#gr)"/>
<circle cx="324.5" cy="402.6" r="3.95" fill="url(#gr)"/>
<circle cx="332.4" cy="402.6" r="3.95" fill="url(#gr)"/>
<circle cx="340.2" cy="402.6" r="3.95" fill="url(#gr)"/>
<circle cx="348.1" cy="402.6" r="3.95" fill="url(#gr)"/>
<circle cx="266.9" cy="407.6" r="3.95" fill="url(#gr)"/>
<circle cx="274.8" cy="407.6" r="3.95" fill="url(#gr)"/>
<circle cx="282.6" cy="407.6" r="3.95" fill="url(#gr)"/>
<circle cx="290.5" cy="407.6" r="3.95" fill="url(#gr)"/>
<circle cx="298.3" cy="407.6" r="3.95" fill="url(#gr)"/>
<circle cx="306.2" cy="407.6" r="3.95" fill="url(#gr)"/>
<circle cx="314.0" cy="407.6" r="3.95" fill="url(#gr)"/>
<circle cx="321.9" cy="407.6" r="3.95" fill="url(#gr)"/>
<circle cx="329.7" cy="407.6" r="3.95" fill="url(#gr)"/>
<circle cx="337.6" cy="407.6" r="3.95" fill="url(#gr)"/>
<circle cx="345.4" cy="407.6" r="3.95" fill="url(#gr)"/>
<circle cx="353.3" cy="407.6" r="3.95" fill="url(#gr)"/>
<circle cx="272.1" cy="412.6" r="3.95" fill="url(#gr)"/>
<circle cx="279.9" cy="412.6" r="3.95" fill="url(#gr)"/>
<circle cx="287.8" cy="412.6" r="3.95" fill="url(#gr)"/>
<circle cx="295.6" cy="412.6" r="3.95" fill="url(#gr)"/>
<circle cx="303.5" cy="412.6" r="3.95" fill="url(#gr)"/>
<circle cx="311.3" cy="412.6" r="3.95" fill="url(#gr)"/>
<circle cx="319.2" cy="412.6" r="3.95" fill="url(#gr)"/>
<circle cx="327.0" cy="412.6" r="3.95" fill="url(#gr)"/>
<circle cx="334.9" cy="412.6" r="3.95" fill="url(#gr)"/>
<circle cx="342.7" cy="412.6" r="3.95" fill="url(#gr)"/>
<circle cx="350.6" cy="412.6" r="3.95" fill="url(#gr)"/>
<circle cx="358.4" cy="412.6" r="3.95" fill="url(#gr)"/>
<circle cx="277.2" cy="417.6" r="3.95" fill="url(#gr)"/>
<circle cx="285.1" cy="417.6" r="3.95" fill="url(#gr)"/>
<circle cx="292.9" cy="417.6" r="3.95" fill="url(#gr)"/>
<circle cx="300.8" cy="417.6" r="3.95" fill="url(#gr)"/>
<circle cx="308.6" cy="417.6" r="3.95" fill="url(#gr)"/>
<circle cx="316.5" cy="417.6" r="3.95" fill="url(#gr)"/>
<circle cx="324.4" cy="417.6" r="3.95" fill="url(#gr)"/>
<circle cx="332.2" cy="417.6" r="3.95" fill="url(#gr)"/>
<circle cx="340.1" cy="417.6" r="3.95" fill="url(#gr)"/>
<circle cx="347.9" cy="417.6" r="3.95" fill="url(#gr)"/>
<circle cx="355.8" cy="417.6" r="3.95" fill="url(#gr)"/>
<circle cx="363.6" cy="417.6" r="3.95" fill="url(#gr)"/>
<circle cx="282.4" cy="422.6" r="3.95" fill="url(#gr)"/>
<circle cx="290.3" cy="422.6" r="3.95" fill="url(#gr)"/>
<circle cx="298.1" cy="422.6" r="3.95" fill="url(#gr)"/>
<circle cx="306.0" cy="422.6" r="3.95" fill="url(#gr)"/>
<circle cx="313.8" cy="422.6" r="3.95" fill="url(#gr)"/>
<circle cx="321.7" cy="422.6" r="3.95" fill="url(#gr)"/>
<circle cx="329.5" cy="422.6" r="3.95" fill="url(#gr)"/>
<circle cx="337.4" cy="422.6" r="3.95" fill="url(#gr)"/>
<circle cx="345.2" cy="422.6" r="3.95" fill="url(#gr)"/>
<circle cx="353.1" cy="422.6" r="3.95" fill="url(#gr)"/>
<circle cx="360.9" cy="422.6" r="3.95" fill="url(#gr)"/>
<circle cx="368.8" cy="422.6" r="3.95" fill="url(#gr)"/>
<circle cx="287.6" cy="427.6" r="3.95" fill="url(#gr)"/>
<circle cx="295.4" cy="427.6" r="3.95" fill="url(#gr)"/>
<circle cx="303.3" cy="427.6" r="3.95" fill="url(#gr)"/>
<circle cx="311.1" cy="427.6" r="3.95" fill="url(#gr)"/>
<circle cx="319.0" cy="427.6" r="3.95" fill="url(#gr)"/>
<circle cx="326.8" cy="427.6" r="3.95" fill="url(#gr)"/>
<circle cx="334.7" cy="427.6" r="3.95" fill="url(#gr)"/>
<circle cx="342.5" cy="427.6" r="3.95" fill="url(#gr)"/>
<circle cx="350.4" cy="427.6" r="3.95" fill="url(#gr)"/>
<circle cx="358.2" cy="427.6" r="3.95" fill="url(#gr)"/>
<circle cx="366.1" cy="427.6" r="3.95" fill="url(#gr)"/>
<circle cx="373.9" cy="427.6" r="3.95" fill="url(#gr)"/>
<ellipse cx="311.5" cy="409" rx="27" ry="9.3" fill="url(#go)" opacity="0.97"/>
<polygon points="298,368.5 321,368.5 333,389.5 329,412.5 295,412.5 289,390.5" fill="#4a5160"/>
<circle cx="299.7" cy="369.6" r="2.7" fill="url(#gg)"/>
<circle cx="304.6" cy="369.6" r="2.7" fill="url(#gg)"/>
<circle cx="309.5" cy="369.6" r="2.7" fill="url(#gg)"/>
<circle cx="314.4" cy="369.6" r="2.7" fill="url(#gg)"/>
<circle cx="319.3" cy="369.6" r="2.7" fill="url(#gg)"/>
<circle cx="297.2" cy="373.8" r="2.7" fill="url(#gg)"/>
<circle cx="302.1" cy="373.8" r="2.7" fill="url(#gg)"/>
<circle cx="307.0" cy="373.8" r="2.7" fill="url(#gg)"/>
<circle cx="311.9" cy="373.8" r="2.7" fill="url(#gg)"/>
<circle cx="316.8" cy="373.8" r="2.7" fill="url(#gg)"/>
<circle cx="321.7" cy="373.8" r="2.7" fill="url(#gg)"/>
<circle cx="294.8" cy="377.9" r="2.7" fill="url(#gg)"/>
<circle cx="299.7" cy="377.9" r="2.7" fill="url(#gg)"/>
<circle cx="304.6" cy="377.9" r="2.7" fill="url(#gg)"/>
<circle cx="309.5" cy="377.9" r="2.7" fill="url(#gg)"/>
<circle cx="314.4" cy="377.9" r="2.7" fill="url(#gg)"/>
<circle cx="319.3" cy="377.9" r="2.7" fill="url(#gg)"/>
<circle cx="324.2" cy="377.9" r="2.7" fill="url(#gg)"/>
<circle cx="297.2" cy="382.0" r="2.7" fill="url(#gg)"/>
<circle cx="302.1" cy="382.0" r="2.7" fill="url(#gg)"/>
<circle cx="307.0" cy="382.0" r="2.7" fill="url(#gg)"/>
<circle cx="311.9" cy="382.0" r="2.7" fill="url(#gg)"/>
<circle cx="316.8" cy="382.0" r="2.7" fill="url(#gg)"/>
<circle cx="321.7" cy="382.0" r="2.7" fill="url(#gg)"/>
<circle cx="326.6" cy="382.0" r="2.7" fill="url(#gg)"/>
<circle cx="294.8" cy="386.2" r="2.7" fill="url(#gg)"/>
<circle cx="299.7" cy="386.2" r="2.7" fill="url(#gg)"/>
<circle cx="304.6" cy="386.2" r="2.7" fill="url(#gg)"/>
<circle cx="309.5" cy="386.2" r="2.7" fill="url(#gg)"/>
<circle cx="314.4" cy="386.2" r="2.7" fill="url(#gg)"/>
<circle cx="319.3" cy="386.2" r="2.7" fill="url(#gg)"/>
<circle cx="324.2" cy="386.2" r="2.7" fill="url(#gg)"/>
<circle cx="329.1" cy="386.2" r="2.7" fill="url(#gg)"/>
<circle cx="292.3" cy="390.3" r="2.7" fill="url(#gg)"/>
<circle cx="297.2" cy="390.3" r="2.7" fill="url(#gg)"/>
<circle cx="302.1" cy="390.3" r="2.7" fill="url(#gg)"/>
<circle cx="307.0" cy="390.3" r="2.7" fill="url(#gg)"/>
<circle cx="311.9" cy="390.3" r="2.7" fill="url(#gg)"/>
<circle cx="316.8" cy="390.3" r="2.7" fill="url(#gg)"/>
<circle cx="321.7" cy="390.3" r="2.7" fill="url(#gg)"/>
<circle cx="326.6" cy="390.3" r="2.7" fill="url(#gg)"/>
<circle cx="331.5" cy="390.3" r="2.7" fill="url(#gg)"/>
<circle cx="294.8" cy="394.5" r="2.7" fill="url(#gg)"/>
<circle cx="299.7" cy="394.5" r="2.7" fill="url(#gg)"/>
<circle cx="304.6" cy="394.5" r="2.7" fill="url(#gg)"/>
<circle cx="309.5" cy="394.5" r="2.7" fill="url(#gg)"/>
<circle cx="314.4" cy="394.5" r="2.7" fill="url(#gg)"/>
<circle cx="319.3" cy="394.5" r="2.7" fill="url(#gg)"/>
<circle cx="324.2" cy="394.5" r="2.7" fill="url(#gg)"/>
<circle cx="329.1" cy="394.5" r="2.7" fill="url(#gg)"/>
<circle cx="292.3" cy="398.6" r="2.7" fill="url(#gg)"/>
<circle cx="297.2" cy="398.6" r="2.7" fill="url(#gg)"/>
<circle cx="302.1" cy="398.6" r="2.7" fill="url(#gg)"/>
<circle cx="307.0" cy="398.6" r="2.7" fill="url(#gg)"/>
<circle cx="311.9" cy="398.6" r="2.7" fill="url(#gg)"/>
<circle cx="316.8" cy="398.6" r="2.7" fill="url(#gg)"/>
<circle cx="321.7" cy="398.6" r="2.7" fill="url(#gg)"/>
<circle cx="326.6" cy="398.6" r="2.7" fill="url(#gg)"/>
<circle cx="294.8" cy="402.8" r="2.7" fill="url(#gg)"/>
<circle cx="299.7" cy="402.8" r="2.7" fill="url(#gg)"/>
<circle cx="304.6" cy="402.8" r="2.7" fill="url(#gg)"/>
<circle cx="309.5" cy="402.8" r="2.7" fill="url(#gg)"/>
<circle cx="314.4" cy="402.8" r="2.7" fill="url(#gg)"/>
<circle cx="319.3" cy="402.8" r="2.7" fill="url(#gg)"/>
<circle cx="324.2" cy="402.8" r="2.7" fill="url(#gg)"/>
<circle cx="329.1" cy="402.8" r="2.7" fill="url(#gg)"/>
<circle cx="297.2" cy="406.9" r="2.7" fill="url(#gg)"/>
<circle cx="302.1" cy="406.9" r="2.7" fill="url(#gg)"/>
<circle cx="307.0" cy="406.9" r="2.7" fill="url(#gg)"/>
<circle cx="311.9" cy="406.9" r="2.7" fill="url(#gg)"/>
<circle cx="316.8" cy="406.9" r="2.7" fill="url(#gg)"/>
<circle cx="321.7" cy="406.9" r="2.7" fill="url(#gg)"/>
<circle cx="326.6" cy="406.9" r="2.7" fill="url(#gg)"/>
<circle cx="294.8" cy="411.1" r="2.7" fill="url(#gg)"/>
<circle cx="299.7" cy="411.1" r="2.7" fill="url(#gg)"/>
<circle cx="304.6" cy="411.1" r="2.7" fill="url(#gg)"/>
<circle cx="309.5" cy="411.1" r="2.7" fill="url(#gg)"/>
<circle cx="314.4" cy="411.1" r="2.7" fill="url(#gg)"/>
<circle cx="319.3" cy="411.1" r="2.7" fill="url(#gg)"/>
<circle cx="324.2" cy="411.1" r="2.7" fill="url(#gg)"/>
<ellipse cx="311" cy="410.5" rx="21" ry="5.2" fill="#f58a10" opacity="0.28"/>
<circle cx="274.7" cy="364.8" r="3.7" fill="url(#gr)"/>
<circle cx="274" cy="371.2" r="4.9" fill="url(#gk)"/>
<circle cx="321" cy="397" r="3.6" fill="url(#gr)"/>
<circle cx="327.3" cy="378.9" r="3.9" fill="url(#gr)"/>
<circle cx="326.6" cy="385.2" r="5.1" fill="url(#gk)"/>
<circle cx="348.3" cy="377.4" r="3.1" fill="url(#gr)"/>
<circle cx="351.1" cy="364.8" r="3.8" fill="url(#gr)"/>
<circle cx="349.7" cy="371.2" r="5" fill="url(#gk)"/>
</g>
<path d="M280,375 L288.5,379" stroke="#222" stroke-width="1" fill="none"/><path d="M289.8,379.6 L285.6,379.6 L287,376.4 Z" fill="#222"/>
<path d="M328.8,373.6 C329.5,368.5 333,366.5 338.5,367" stroke="#222" stroke-width="1" fill="none"/><path d="M340.6,367.2 L337,365.2 L337,369.2 Z" fill="#222"/>
<path d="M324,402 C321,406 323,410.5 327.5,410 C331,409.5 332,405.5 329.5,404" stroke="#222" stroke-width="0.9" fill="none"/>
<text x="290.8" y="365" font-size="10" font-weight="bold" fill="#333" text-anchor="start" textLength="36.3" lengthAdjust="spacingAndGlyphs" >2. Metal</text>
<text x="236.8" y="386.3" font-size="10" font-weight="bold" fill="#f01414" text-anchor="start" textLength="39" lengthAdjust="spacingAndGlyphs" >1. Oxide</text>
<text x="346.8" y="395" font-size="10" font-weight="bold" fill="#f5821e" text-anchor="start" textLength="52" lengthAdjust="spacingAndGlyphs" >3. Interface</text>
</g>
<g id="panel-d">
<text x="452" y="289.5" font-size="15" font-weight="bold" fill="#000" text-anchor="start" >d</text>
<line x1="496.5" y1="522.5" x2="774.3" y2="522.5" stroke="#c2c2c2" stroke-width="1" />
<text x="491.5" y="526.5" font-size="12" font-weight="normal" fill="#111" text-anchor="end" >-0.2</text>
<line x1="496.5" y1="491.1" x2="774.3" y2="491.1" stroke="#c2c2c2" stroke-width="1" />
<text x="491.5" y="495.1" font-size="12" font-weight="normal" fill="#111" text-anchor="end" >0.0</text>
<line x1="496.5" y1="459.70000000000005" x2="774.3" y2="459.70000000000005" stroke="#c2c2c2" stroke-width="1" />
<text x="491.5" y="463.70000000000005" font-size="12" font-weight="normal" fill="#111" text-anchor="end" >0.2</text>
<line x1="496.5" y1="428.3" x2="774.3" y2="428.3" stroke="#c2c2c2" stroke-width="1" />
<text x="491.5" y="432.3" font-size="12" font-weight="normal" fill="#111" text-anchor="end" >0.4</text>
<line x1="496.5" y1="396.90000000000003" x2="774.3" y2="396.90000000000003" stroke="#c2c2c2" stroke-width="1" />
<text x="491.5" y="400.90000000000003" font-size="12" font-weight="normal" fill="#111" text-anchor="end" >0.6</text>
<line x1="496.5" y1="365.5" x2="774.3" y2="365.5" stroke="#c2c2c2" stroke-width="1" />
<text x="491.5" y="369.5" font-size="12" font-weight="normal" fill="#111" text-anchor="end" >0.8</text>
<line x1="496.5" y1="334.1" x2="774.3" y2="334.1" stroke="#c2c2c2" stroke-width="1" />
<text x="491.5" y="338.1" font-size="12" font-weight="normal" fill="#111" text-anchor="end" >1.0</text>
<line x1="496.5" y1="302.70000000000005" x2="774.3" y2="302.70000000000005" stroke="#c2c2c2" stroke-width="1" />
<text x="491.5" y="306.70000000000005" font-size="12" font-weight="normal" fill="#111" text-anchor="end" >1.2</text>
<line x1="501.2" y1="302.70000000000005" x2="501.2" y2="526.5" stroke="#c2c2c2" stroke-width="1" />
<line x1="546.6666666666666" y1="302.70000000000005" x2="546.6666666666666" y2="526.5" stroke="#c2c2c2" stroke-width="1" />
<line x1="592.1333333333333" y1="302.70000000000005" x2="592.1333333333333" y2="526.5" stroke="#c2c2c2" stroke-width="1" />
<line x1="637.6" y1="302.70000000000005" x2="637.6" y2="526.5" stroke="#c2c2c2" stroke-width="1" />
<line x1="683.0666666666666" y1="302.70000000000005" x2="683.0666666666666" y2="526.5" stroke="#c2c2c2" stroke-width="1" />
<line x1="728.5333333333333" y1="302.70000000000005" x2="728.5333333333333" y2="526.5" stroke="#c2c2c2" stroke-width="1" />
<line x1="774.0" y1="302.70000000000005" x2="774.0" y2="526.5" stroke="#c2c2c2" stroke-width="1" />
<text x="501.2" y="541.3" font-size="12" font-weight="normal" fill="#111" text-anchor="middle" >0</text>
<text x="546.6666666666666" y="541.3" font-size="12" font-weight="normal" fill="#111" text-anchor="middle" >30</text>
<text x="592.1333333333333" y="541.3" font-size="12" font-weight="normal" fill="#111" text-anchor="middle" >60</text>
<text x="637.6" y="541.3" font-size="12" font-weight="normal" fill="#111" text-anchor="middle" >90</text>
<text x="683.0666666666666" y="541.3" font-size="12" font-weight="normal" fill="#111" text-anchor="middle" >120</text>
<text x="728.5333333333333" y="541.3" font-size="12" font-weight="normal" fill="#111" text-anchor="middle" >150</text>
<text x="766" y="541.3" font-size="12" font-weight="normal" fill="#111" text-anchor="start" >180</text>
<rect x="696.00" y="361.50" width="65.00" height="57.50" fill="#fff" stroke="none" stroke-width="0" />
<rect x="572.00" y="468.00" width="96.00" height="44.00" fill="#fff" stroke="none" stroke-width="0" />
<rect x="667.00" y="486.00" width="26.50" height="21.00" fill="#fff" stroke="none" stroke-width="0" />
<text transform="translate(458.3,411.5) rotate(-90)" font-size="13.5" font-weight="bold" text-anchor="middle" fill="#111" textLength="66" lengthAdjust="spacingAndGlyphs">Selectivity</text>
<text x="559.3" y="561" font-size="13.5" font-weight="bold" fill="#111" text-anchor="start" textLength="157" lengthAdjust="spacingAndGlyphs" >UV Treatment Time (min)</text>
<path d="M501.6,328.0 C501.8,329.3 502.1,333.2 502.5,336.0 C502.9,338.8 503.5,342.3 504.0,345.0 C504.5,347.7 504.6,347.9 505.4,352.4 C506.1,356.9 507.3,366.2 508.5,372.0 C509.7,377.8 510.8,382.7 512.4,387.4 C514.0,392.1 515.9,396.3 518.0,400.0 C520.1,403.7 522.1,406.6 524.9,409.8 C527.7,413.0 531.4,416.3 535.0,419.0 C538.6,421.7 541.6,423.4 546.6,426.2 C551.6,429.0 557.4,432.6 565.0,436.0 C572.6,439.4 584.0,443.9 592.3,446.8 C600.6,449.7 607.5,451.5 615.0,453.5 C622.5,455.5 625.8,456.4 637.2,458.7 C648.6,461.0 668.3,464.8 683.4,467.4 C698.5,470.0 712.9,472.4 728.0,474.4 C743.1,476.4 766.2,478.4 773.8,479.2" fill="none" stroke="#2e8ea6" stroke-width="2.2" stroke-linecap="round"/>
<path d="M502.0,494.0 C502.1,491.7 502.5,484.0 502.8,480.0 C503.1,476.0 503.4,473.3 504.0,470.0 C504.6,466.7 505.4,464.2 506.2,460.0 C507.0,455.8 508.0,449.6 509.0,445.0 C510.0,440.4 511.1,436.2 512.4,432.5 C513.7,428.8 514.9,425.9 517.0,423.0 C519.1,420.1 521.9,417.7 524.9,415.0 C527.9,412.3 531.4,409.6 535.0,407.0 C538.6,404.4 541.6,402.3 546.6,399.5 C551.6,396.7 557.4,393.3 565.0,390.0 C572.6,386.7 584.0,382.5 592.3,379.5 C600.6,376.5 607.5,374.3 615.0,372.0 C622.5,369.7 625.8,368.4 637.2,365.8 C648.6,363.2 668.3,358.9 683.4,356.2 C698.5,353.5 712.9,351.8 728.0,349.9 C743.1,348.0 766.2,345.7 773.8,344.9" fill="none" stroke="#f07a1c" stroke-width="2.2" stroke-linecap="round"/>
<line x1="500.7" y1="302.20000000000005" x2="500.7" y2="373" stroke="#111" stroke-width="1.3" />
<line x1="498.5" y1="373" x2="502.9" y2="373" stroke="#111" stroke-width="1.3" />
<line x1="505.6" y1="320" x2="505.6" y2="347.4" stroke="#111" stroke-width="1.3" />
<line x1="503.40000000000003" y1="320" x2="507.8" y2="320" stroke="#111" stroke-width="1.3" />
<line x1="503.40000000000003" y1="347.4" x2="507.8" y2="347.4" stroke="#111" stroke-width="1.3" />
<line x1="516.2" y1="387.4" x2="516.2" y2="441.2" stroke="#111" stroke-width="1.3" />
<line x1="514.0" y1="387.4" x2="518.4000000000001" y2="387.4" stroke="#111" stroke-width="1.3" />
<line x1="514.0" y1="441.2" x2="518.4000000000001" y2="441.2" stroke="#111" stroke-width="1.3" />
<line x1="546.6" y1="366" x2="546.6" y2="388.6" stroke="#111" stroke-width="1.3" />
<line x1="544.4" y1="366" x2="548.8000000000001" y2="366" stroke="#111" stroke-width="1.3" />
<line x1="544.4" y1="388.6" x2="548.8000000000001" y2="388.6" stroke="#111" stroke-width="1.3" />
<line x1="592" y1="351" x2="592" y2="414.8" stroke="#111" stroke-width="1.3" />
<line x1="589.8" y1="351" x2="594.2" y2="351" stroke="#111" stroke-width="1.3" />
<line x1="589.8" y1="414.8" x2="594.2" y2="414.8" stroke="#111" stroke-width="1.3" />
<line x1="500.3" y1="452.5" x2="500.3" y2="523.5" stroke="#111" stroke-width="1.3" />
<line x1="498.1" y1="452.5" x2="502.5" y2="452.5" stroke="#111" stroke-width="1.3" />
<line x1="592" y1="427.5" x2="592" y2="455" stroke="#111" stroke-width="1.3" />
<line x1="589.8" y1="427.5" x2="594.2" y2="427.5" stroke="#111" stroke-width="1.3" />
<line x1="589.8" y1="455" x2="594.2" y2="455" stroke="#111" stroke-width="1.3" />
<line x1="546.6" y1="441.5" x2="546.6" y2="453.5" stroke="#111" stroke-width="1.3" />
<line x1="545.1" y1="441.5" x2="548.1" y2="441.5" stroke="#111" stroke-width="1.3" />
<line x1="545.1" y1="453.5" x2="548.1" y2="453.5" stroke="#111" stroke-width="1.3" />
<line x1="774" y1="349" x2="774" y2="360" stroke="#111" stroke-width="1.3" />
<line x1="772.5" y1="349" x2="775.5" y2="349" stroke="#111" stroke-width="1.3" />
<line x1="772.5" y1="360" x2="775.5" y2="360" stroke="#111" stroke-width="1.3" />
<rect x="495.45" y="324.75" width="10.50" height="10.50" fill="#2e8faa" stroke="#2c5f8e" stroke-width="1" />
<rect x="500.15" y="329.15" width="10.50" height="10.50" fill="#2e8faa" stroke="#2c5f8e" stroke-width="1" />
<rect x="510.95" y="396.55" width="10.50" height="10.50" fill="#2e8faa" stroke="#2c5f8e" stroke-width="1" />
<rect x="510.95" y="417.25" width="10.50" height="10.50" fill="#f07a1e" stroke="#b8560e" stroke-width="1" />
<rect x="541.35" y="372.65" width="10.50" height="10.50" fill="#f07a1e" stroke="#b8560e" stroke-width="1" />
<rect x="586.55" y="377.65" width="10.50" height="10.50" fill="#f07a1e" stroke="#b8560e" stroke-width="1" />
<rect x="541.35" y="442.25" width="10.50" height="10.50" fill="#2e8faa" stroke="#2c5f8e" stroke-width="1" />
<rect x="586.55" y="437.25" width="10.50" height="10.50" fill="#2e8faa" stroke="#2c5f8e" stroke-width="1" />
<rect x="768.55" y="465.15" width="10.50" height="10.50" fill="#2e8faa" stroke="#2c5f8e" stroke-width="1" />
<rect x="494.75" y="488.45" width="10.50" height="10.50" fill="#f07a1e" stroke="#b8560e" stroke-width="1" />
<rect x="500.95" y="485.95" width="10.50" height="10.50" fill="#f07a1e" stroke="#b8560e" stroke-width="1" />
<rect x="769.25" y="348.30" width="9.50" height="12.00" fill="#f07a1e" stroke="#b8560e" stroke-width="1" />
<path d="M693.5,328.3 A24.7,10.8 0 0 1 742.9,328.3 Z" fill="#4f81bd"/>
<rect x="682.00" y="328.00" width="72.50" height="11.50" fill="#e8701a" stroke="#9a4a14" stroke-width="1" />
<text x="719" y="325.8" font-size="8.5" font-weight="normal" fill="#fff" text-anchor="middle" >Pt</text>
<text x="721" y="337.2" font-size="9" fill="#fff" text-anchor="middle">TiO<tspan font-size="6" dy="1.5">2</tspan></text>
<g stroke="#e38a4c" stroke-width="1.1" fill="none" stroke-linecap="round">
<path d="M709.5,392.5 L697.8,398.8 L706.5,418.8 L720.3,418.8 L727.8,400 L717.5,392.8"/>
<path d="M700.8,400.2 L708.3,417"/><path d="M724.3,401.5 L718.4,416.6"/>
<path d="M727.8,400 L741.5,393.8 L742.8,380.5"/>
</g>
<text x="713.4" y="391.6" font-size="9.3" font-weight="bold" fill="#e07a3a" text-anchor="middle" >O</text>
<text x="738.2" y="376.4" font-size="9.7" font-weight="bold" fill="#e07a3a" text-anchor="start" textLength="14.8" lengthAdjust="spacingAndGlyphs" >OH</text>
<g stroke="#46527e" stroke-width="1.1" fill="none" stroke-linecap="round">
<path d="M587,484 L575,492 L582.5,510.5 L599.5,510.5 L606.3,492 L595.5,484.2"/>
<path d="M578,493.5 L584.3,508.8"/><path d="M603.4,493.5 L597.6,508.8"/>
<path d="M635.5,484 L624,492 L629,510.4 L650.2,510.4 L656,492 L644,484.2"/>
<path d="M671.4,488.7 L677.6,499.9 L692.6,499.9"/><path d="M677.6,503.6 L692.6,503.6"/>
</g>
<text x="591.3" y="483.4" font-size="9.3" font-weight="bold" fill="#2f3a6a" text-anchor="middle" >O</text>
<text x="639.7" y="483.4" font-size="9.3" font-weight="bold" fill="#2f3a6a" text-anchor="middle" >O</text>
<text x="614.2" y="501.8" font-size="13" font-weight="bold" fill="#2f3a6a" text-anchor="middle" >+</text>
<text x="664.2" y="501" font-size="13" font-weight="bold" fill="#2f3a6a" text-anchor="middle" >+</text>
</g>
<g id="panel-e">
<text x="3.5" y="593.8" font-size="15" font-weight="bold" fill="#000" text-anchor="start" >e</text>
<rect x="55.20" y="692.34" width="10.50" height="81.76" fill="#4f81bd" stroke="none" stroke-width="0" />
<rect x="65.50" y="730.74" width="10.50" height="43.36" fill="#c0504d" stroke="none" stroke-width="0" />
<rect x="75.80" y="746.68" width="10.50" height="27.42" fill="#9bbb59" stroke="none" stroke-width="0" />
<rect x="86.10" y="756.62" width="10.50" height="17.48" fill="#8064a2" stroke="none" stroke-width="0" />
<line x1="60.35" y1="687.0288" x2="60.35" y2="703.826" stroke="#111" stroke-width="1.1" />
<line x1="57.95" y1="687.0288" x2="62.75" y2="687.0288" stroke="#111" stroke-width="1.1" />
<line x1="57.95" y1="703.826" x2="62.75" y2="703.826" stroke="#111" stroke-width="1.1" />
<rect x="117.20" y="693.88" width="10.50" height="80.22" fill="#4f81bd" stroke="none" stroke-width="0" />
<rect x="127.50" y="735.02" width="10.50" height="39.08" fill="#c0504d" stroke="none" stroke-width="0" />
<rect x="137.80" y="737.76" width="10.50" height="36.34" fill="#9bbb59" stroke="none" stroke-width="0" />
<rect x="148.10" y="759.87" width="10.50" height="14.23" fill="#8064a2" stroke="none" stroke-width="0" />
<line x1="122.35000000000001" y1="668.1748" x2="122.35000000000001" y2="701.7692000000001" stroke="#111" stroke-width="1.1" />
<line x1="119.95" y1="668.1748" x2="124.75000000000001" y2="668.1748" stroke="#111" stroke-width="1.1" />
<line x1="119.95" y1="701.7692000000001" x2="124.75000000000001" y2="701.7692000000001" stroke="#111" stroke-width="1.1" />
<rect x="179.60" y="645.21" width="10.50" height="128.89" fill="#4f81bd" stroke="none" stroke-width="0" />
<rect x="189.90" y="750.79" width="10.50" height="23.31" fill="#c0504d" stroke="none" stroke-width="0" />
<rect x="200.20" y="760.22" width="10.50" height="13.88" fill="#9bbb59" stroke="none" stroke-width="0" />
<rect x="210.50" y="769.82" width="10.50" height="4.28" fill="#8064a2" stroke="none" stroke-width="0" />
<line x1="184.75" y1="634.9232000000001" x2="184.75" y2="645.5500000000001" stroke="#111" stroke-width="1.1" />
<line x1="182.35" y1="634.9232000000001" x2="187.15" y2="634.9232000000001" stroke="#111" stroke-width="1.1" />
<line x1="182.35" y1="645.5500000000001" x2="187.15" y2="645.5500000000001" stroke="#111" stroke-width="1.1" />
<rect x="241.70" y="615.04" width="10.50" height="159.06" fill="#4f81bd" stroke="none" stroke-width="0" />
<rect x="252.00" y="772.21" width="10.50" height="1.89" fill="#c0504d" stroke="none" stroke-width="0" />
<rect x="262.30" y="767.42" width="10.50" height="6.68" fill="#9bbb59" stroke="none" stroke-width="0" />
<rect x="272.60" y="771.87" width="10.50" height="2.23" fill="#8064a2" stroke="none" stroke-width="0" />
<line x1="246.85" y1="609.556" x2="246.85" y2="623.268" stroke="#111" stroke-width="1.1" />
<line x1="244.45" y1="609.556" x2="249.25" y2="609.556" stroke="#111" stroke-width="1.1" />
<line x1="244.45" y1="623.268" x2="249.25" y2="623.268" stroke="#111" stroke-width="1.1" />
<rect x="303.50" y="616.75" width="10.50" height="157.35" fill="#4f81bd" stroke="none" stroke-width="0" />
<rect x="324.10" y="763.13" width="10.50" height="10.97" fill="#9bbb59" stroke="none" stroke-width="0" />
<rect x="334.40" y="771.36" width="10.50" height="2.74" fill="#8064a2" stroke="none" stroke-width="0" />
<line x1="308.65" y1="605.7852" x2="308.65" y2="625.3248000000001" stroke="#111" stroke-width="1.1" />
<line x1="306.25" y1="605.7852" x2="311.04999999999995" y2="605.7852" stroke="#111" stroke-width="1.1" />
<line x1="306.25" y1="625.3248000000001" x2="311.04999999999995" y2="625.3248000000001" stroke="#111" stroke-width="1.1" />
<rect x="365.60" y="714.11" width="10.50" height="59.99" fill="#4f81bd" stroke="none" stroke-width="0" />
<rect x="375.90" y="732.62" width="10.50" height="41.48" fill="#c0504d" stroke="none" stroke-width="0" />
<rect x="386.20" y="725.77" width="10.50" height="48.33" fill="#9bbb59" stroke="none" stroke-width="0" />
<rect x="396.50" y="752.85" width="10.50" height="21.25" fill="#8064a2" stroke="none" stroke-width="0" />
<line x1="370.75" y1="712.7388000000001" x2="370.75" y2="718.5664" stroke="#111" stroke-width="1.1" />
<line x1="368.35" y1="712.7388000000001" x2="373.15" y2="712.7388000000001" stroke="#111" stroke-width="1.1" />
<line x1="368.35" y1="718.5664" x2="373.15" y2="718.5664" stroke="#111" stroke-width="1.1" />
<rect x="44.50" y="602.70" width="373.50" height="171.40" fill="none" stroke="#0a0a0a" stroke-width="1.6" />
<line x1="68.8" y1="602.7" x2="153.8" y2="602.7" stroke="#2a3aa0" stroke-width="1.1" />
<line x1="40.5" y1="774.1" x2="44.5" y2="774.1" stroke="#111" stroke-width="1.3" />
<text x="36.8" y="778.5" font-size="11.8" font-weight="bold" fill="#111" text-anchor="end" >0</text>
<line x1="40.5" y1="739.82" x2="44.5" y2="739.82" stroke="#111" stroke-width="1.3" />
<text x="36.8" y="744.22" font-size="11.8" font-weight="bold" fill="#111" text-anchor="end" >20</text>
<line x1="40.5" y1="705.5400000000001" x2="44.5" y2="705.5400000000001" stroke="#111" stroke-width="1.3" />
<text x="36.8" y="709.94" font-size="11.8" font-weight="bold" fill="#111" text-anchor="end" >40</text>
<line x1="40.5" y1="671.26" x2="44.5" y2="671.26" stroke="#111" stroke-width="1.3" />
<text x="36.8" y="675.66" font-size="11.8" font-weight="bold" fill="#111" text-anchor="end" >60</text>
<line x1="40.5" y1="636.98" x2="44.5" y2="636.98" stroke="#111" stroke-width="1.3" />
<text x="36.8" y="641.38" font-size="11.8" font-weight="bold" fill="#111" text-anchor="end" >80</text>
<line x1="40.5" y1="602.7" x2="44.5" y2="602.7" stroke="#111" stroke-width="1.3" />
<text x="36.8" y="607.1" font-size="11.8" font-weight="bold" fill="#111" text-anchor="end" >100</text>
<text transform="translate(11.3,688) rotate(-90)" font-size="15" font-weight="bold" text-anchor="middle" fill="#111" textLength="103" lengthAdjust="spacingAndGlyphs">Selectivity (%)</text>
<rect x="58.00" y="588.00" width="6.60" height="6.60" fill="#4f81bd" stroke="none" stroke-width="0" />
<text x="66.3" y="595" font-size="12.5" font-weight="normal" fill="#1f7f9e" text-anchor="start" textLength="81" lengthAdjust="spacingAndGlyphs" stroke="#1f7f9e" stroke-width="0.35">Isomerization</text>
<rect x="157.30" y="588.00" width="6.60" height="6.60" fill="#c0504d" stroke="none" stroke-width="0" />
<text x="166" y="595" font-size="12.5" font-weight="bold" fill="#d0102a" text-anchor="start" textLength="65" lengthAdjust="spacingAndGlyphs" >Cyclization</text>
<rect x="241.60" y="588.00" width="6.60" height="6.60" fill="#9bbb59" stroke="none" stroke-width="0" />
<text x="250" y="595" font-size="12.5" font-weight="normal" fill="#86b83c" text-anchor="start" textLength="53.5" lengthAdjust="spacingAndGlyphs" stroke="#86b83c" stroke-width="0.35">Cracking</text>
<rect x="318.00" y="588.00" width="6.20" height="6.60" fill="#8064a2" stroke="none" stroke-width="0" />
<text x="326.2" y="595" font-size="12.5" font-weight="normal" fill="#7a58b4" text-anchor="start" textLength="83" lengthAdjust="spacingAndGlyphs" stroke="#7a58b4" stroke-width="0.35">Aromatization</text>
<text x="48" y="787.6" font-size="12.5" font-weight="bold" fill="#111" text-anchor="start" textLength="41.5" lengthAdjust="spacingAndGlyphs" >Pt/SiO<tspan font-size="9" dy="3">2</tspan><tspan dy="-3">&#8203;</tspan></text>
<text x="108.8" y="787.6" font-size="12.5" font-weight="bold" fill="#111" text-anchor="start" textLength="46.4" lengthAdjust="spacingAndGlyphs" >Pt/Al<tspan font-size="9" dy="3">2</tspan><tspan dy="-3">&#8203;</tspan>O<tspan font-size="9" dy="3">3</tspan><tspan dy="-3">&#8203;</tspan></text>
<text x="172" y="787.6" font-size="12.5" font-weight="bold" fill="#111" text-anchor="start" textLength="43" lengthAdjust="spacingAndGlyphs" >Pt/TiO<tspan font-size="9" dy="3">2</tspan><tspan dy="-3">&#8203;</tspan></text>
<text x="235.4" y="787.6" font-size="12.5" font-weight="bold" fill="#111" text-anchor="start" textLength="51.3" lengthAdjust="spacingAndGlyphs" >Pt/Nb<tspan font-size="9" dy="3">2</tspan><tspan dy="-3">&#8203;</tspan>O<tspan font-size="9" dy="3">5</tspan><tspan dy="-3">&#8203;</tspan></text>
<text x="297" y="787.6" font-size="12.5" font-weight="bold" fill="#111" text-anchor="start" textLength="51.2" lengthAdjust="spacingAndGlyphs" >Pt/Ta<tspan font-size="9" dy="3">2</tspan><tspan dy="-3">&#8203;</tspan>O<tspan font-size="9" dy="3">5</tspan><tspan dy="-3">&#8203;</tspan></text>
<text x="367.9" y="787.6" font-size="12.5" font-weight="bold" fill="#111" text-anchor="start" textLength="42.4" lengthAdjust="spacingAndGlyphs" >Pt/ZrO<tspan font-size="9" dy="3">2</tspan><tspan dy="-3">&#8203;</tspan></text>
<rect x="340.30" y="603.70" width="75.30" height="20.50" fill="#fff" stroke="#111" stroke-width="1.2" />
<text x="380" y="617" font-size="10.5" font-weight="bold" fill="#111" text-anchor="middle" textLength="51" lengthAdjust="spacingAndGlyphs" >2.7 nm Pt</text>
<g filter="url(#soft)">
<path d="M359.2,630.7 Q368.0,633.8 373.5,627.6 Q377.6,633.3 383.8,629.4 Q385.8,637.2 394.5,637.4 Q391.4,644.6 398.0,648.6 Q390.1,651.8 391.3,655.7 Q388.7,657.4 394.5,662.9 Q386.8,663.3 386.4,670.9 Q378.6,667.5 373.5,673.6 Q369.1,667.8 361.9,671.8 Q361.2,664.0 353.4,663.8 Q356.7,656.5 350.3,652.6 Q356.2,646.7 352.1,638.8 Q359.7,638.2 359.2,630.7 Z" fill="#555555"/>
<ellipse cx="362.3" cy="640.5" rx="6.2" ry="7.1" fill="#8a8a8a" opacity="0.62" filter="url(#soft3)" transform="rotate(-20 362.3 640.5)"/>
<ellipse cx="375.7" cy="636.1" rx="6.2" ry="5.2" fill="#8a8a8a" opacity="0.62" filter="url(#soft3)" transform="rotate(0 375.7 636.1)"/>
<ellipse cx="386.4" cy="645.0" rx="6.7" ry="6.1" fill="#8a8a8a" opacity="0.62" filter="url(#soft3)" transform="rotate(20 386.4 645.0)"/>
<ellipse cx="372.1" cy="648.6" rx="5.2" ry="6.2" fill="#8a8a8a" opacity="0.62" filter="url(#soft3)" transform="rotate(10 372.1 648.6)"/>
<ellipse cx="358.3" cy="655.7" rx="5.2" ry="6.2" fill="#8a8a8a" opacity="0.62" filter="url(#soft3)" transform="rotate(-10 358.3 655.7)"/>
<ellipse cx="370.4" cy="663.8" rx="6.1" ry="6.7" fill="#8a8a8a" opacity="0.62" filter="url(#soft3)" transform="rotate(10 370.4 663.8)"/>
<ellipse cx="384.6" cy="660.2" rx="6.4" ry="5.0" fill="#8a8a8a" opacity="0.62" filter="url(#soft3)" transform="rotate(-40 384.6 660.2)"/>
<polyline points="356.5,646.8 360.5,649.5 365.0,655.7 370.4,658.4 374.8,657.9" fill="none" stroke="#2a2a2a" stroke-width="1.6" stroke-linecap="round" stroke-linejoin="round"/>
<polyline points="377.5,659.3 382.0,655.3 388.7,653.2" fill="none" stroke="#2a2a2a" stroke-width="1.6" stroke-linecap="round" stroke-linejoin="round"/>
<polyline points="369.5,635.2 369.9,642.3 367.7,649.5" fill="none" stroke="#4a4a4a" stroke-width="1.1" stroke-linecap="round" stroke-linejoin="round"/>
<polyline points="379.3,641.4 378.4,647.7 380.2,653.9" fill="none" stroke="#4a4a4a" stroke-width="1.1" stroke-linecap="round" stroke-linejoin="round"/>
<polyline points="364.1,659.3 362.3,666.4 362.3,670.9" fill="none" stroke="#444" stroke-width="1.1" stroke-linecap="round" stroke-linejoin="round"/>
<polyline points="377.5,662.0 378.4,667.3 384.6,669.1" fill="none" stroke="#444" stroke-width="1.1" stroke-linecap="round" stroke-linejoin="round"/>
</g>
<circle cx="359.6" cy="641.4" r="0.7" fill="#d0563a" opacity="0.9"/>
<circle cx="366.3" cy="639.6" r="0.7" fill="#d0563a" opacity="0.9"/>
<circle cx="375.7" cy="637.0" r="0.7" fill="#d0563a" opacity="0.9"/>
<circle cx="369.5" cy="636.1" r="0.7" fill="#d0563a" opacity="0.9"/>
<circle cx="382.4" cy="632.5" r="0.7" fill="#d0563a" opacity="0.9"/>
<circle cx="384.6" cy="641.4" r="0.7" fill="#d0563a" opacity="0.9"/>
<circle cx="389.6" cy="646.3" r="0.7" fill="#d0563a" opacity="0.9"/>
<circle cx="368.6" cy="645.9" r="0.7" fill="#d0563a" opacity="0.9"/>
<circle cx="373.5" cy="648.4" r="0.7" fill="#d0563a" opacity="0.9"/>
<circle cx="380.2" cy="648.6" r="0.7" fill="#d0563a" opacity="0.9"/>
<circle cx="384.6" cy="650.4" r="0.7" fill="#d0563a" opacity="0.9"/>
<circle cx="358.8" cy="648.6" r="0.7" fill="#d0563a" opacity="0.9"/>
<circle cx="361.4" cy="653.5" r="0.7" fill="#d0563a" opacity="0.9"/>
<circle cx="359.2" cy="658.4" r="0.7" fill="#d0563a" opacity="0.9"/>
<circle cx="356.5" cy="662.0" r="0.7" fill="#d0563a" opacity="0.9"/>
<circle cx="365.9" cy="662.7" r="0.7" fill="#d0563a" opacity="0.9"/>
<circle cx="373.5" cy="662.9" r="0.7" fill="#d0563a" opacity="0.9"/>
<circle cx="372.1" cy="658.4" r="0.7" fill="#d0563a" opacity="0.9"/>
<circle cx="377.5" cy="659.3" r="0.7" fill="#d0563a" opacity="0.9"/>
<circle cx="382.4" cy="658.8" r="0.7" fill="#d0563a" opacity="0.9"/>
<circle cx="382.0" cy="655.3" r="0.7" fill="#d0563a" opacity="0.9"/>
<circle cx="383.8" cy="668.7" r="0.7" fill="#d0563a" opacity="0.9"/>
<circle cx="391.3" cy="658.4" r="0.7" fill="#d0563a" opacity="0.9"/>
<circle cx="393.6" cy="641.0" r="0.7" fill="#d0563a" opacity="0.9"/>
</g>
<g id="panel-f">
<text x="441.3" y="593.8" font-size="16" font-weight="bold" fill="#000" text-anchor="start" >f</text>
<rect x="482.00" y="692.45" width="13.75" height="81.55" fill="#078207" stroke="none" stroke-width="0" />
<rect x="495.55" y="671.79" width="13.75" height="102.21" fill="#ff46ff" stroke="none" stroke-width="0" />
<rect x="543.00" y="628.06" width="13.75" height="145.94" fill="#078207" stroke="none" stroke-width="0" />
<rect x="556.55" y="735.99" width="13.75" height="38.01" fill="#ff46ff" stroke="none" stroke-width="0" />
<rect x="604.00" y="728.98" width="13.75" height="45.02" fill="#078207" stroke="none" stroke-width="0" />
<rect x="617.55" y="635.07" width="13.75" height="138.93" fill="#ff46ff" stroke="none" stroke-width="0" />
<rect x="665.00" y="764.41" width="13.75" height="9.59" fill="#078207" stroke="none" stroke-width="0" />
<rect x="678.55" y="764.41" width="13.75" height="9.59" fill="#ff46ff" stroke="none" stroke-width="0" />
<rect x="692.10" y="666.62" width="13.75" height="107.38" fill="#1446ff" stroke="none" stroke-width="0" />
<rect x="705.65" y="716.80" width="13.75" height="57.20" fill="#8c1a14" stroke="none" stroke-width="0" />
<rect x="725.80" y="763.48" width="13.75" height="10.52" fill="#078207" stroke="none" stroke-width="0" />
<rect x="739.35" y="768.10" width="13.75" height="5.90" fill="#ff46ff" stroke="none" stroke-width="0" />
<rect x="752.90" y="751.86" width="13.75" height="22.14" fill="#1446ff" stroke="none" stroke-width="0" />
<rect x="766.45" y="628.06" width="13.75" height="145.94" fill="#8c1a14" stroke="none" stroke-width="0" />
<line x1="476.8" y1="589" x2="476.8" y2="774.8" stroke="#111" stroke-width="1.5" />
<line x1="476.1" y1="774.0" x2="783" y2="774.0" stroke="#111" stroke-width="1.5" />
<line x1="497" y1="774.0" x2="540" y2="774.0" stroke="#3030c0" stroke-width="1.2" />
<line x1="632" y1="774.0" x2="662" y2="774.0" stroke="#3030c0" stroke-width="1.2" />
<line x1="473.3" y1="774.0" x2="476.8" y2="774.0" stroke="#111" stroke-width="1.2" />
<text x="471.5" y="777.9" font-size="10.8" font-weight="bold" fill="#111" text-anchor="end" >0</text>
<line x1="473.3" y1="755.55" x2="476.8" y2="755.55" stroke="#111" stroke-width="1.2" />
<text x="471.5" y="759.4499999999999" font-size="10.8" font-weight="bold" fill="#111" text-anchor="end" >10</text>
<line x1="473.3" y1="737.1" x2="476.8" y2="737.1" stroke="#111" stroke-width="1.2" />
<text x="471.5" y="741.0" font-size="10.8" font-weight="bold" fill="#111" text-anchor="end" >20</text>
<line x1="473.3" y1="718.65" x2="476.8" y2="718.65" stroke="#111" stroke-width="1.2" />
<text x="471.5" y="722.55" font-size="10.8" font-weight="bold" fill="#111" text-anchor="end" >30</text>
<line x1="473.3" y1="700.2" x2="476.8" y2="700.2" stroke="#111" stroke-width="1.2" />
<text x="471.5" y="704.1" font-size="10.8" font-weight="bold" fill="#111" text-anchor="end" >40</text>
<line x1="473.3" y1="681.75" x2="476.8" y2="681.75" stroke="#111" stroke-width="1.2" />
<text x="471.5" y="685.65" font-size="10.8" font-weight="bold" fill="#111" text-anchor="end" >50</text>
<line x1="473.3" y1="663.3" x2="476.8" y2="663.3" stroke="#111" stroke-width="1.2" />
<text x="471.5" y="667.1999999999999" font-size="10.8" font-weight="bold" fill="#111" text-anchor="end" >60</text>
<line x1="473.3" y1="644.85" x2="476.8" y2="644.85" stroke="#111" stroke-width="1.2" />
<text x="471.5" y="648.75" font-size="10.8" font-weight="bold" fill="#111" text-anchor="end" >70</text>
<line x1="473.3" y1="626.4" x2="476.8" y2="626.4" stroke="#111" stroke-width="1.2" />
<text x="471.5" y="630.3" font-size="10.8" font-weight="bold" fill="#111" text-anchor="end" >80</text>
<line x1="473.3" y1="607.95" x2="476.8" y2="607.95" stroke="#111" stroke-width="1.2" />
<text x="471.5" y="611.85" font-size="10.8" font-weight="bold" fill="#111" text-anchor="end" >90</text>
<line x1="473.3" y1="589.5" x2="476.8" y2="589.5" stroke="#111" stroke-width="1.2" />
<text x="471.5" y="593.4" font-size="10.8" font-weight="bold" fill="#111" text-anchor="end" >100</text>
<line x1="478.8" y1="774.0" x2="478.8" y2="777.5" stroke="#111" stroke-width="1.1" />
<line x1="539.8" y1="774.0" x2="539.8" y2="777.5" stroke="#111" stroke-width="1.1" />
<line x1="600.8" y1="774.0" x2="600.8" y2="777.5" stroke="#111" stroke-width="1.1" />
<line x1="661.8" y1="774.0" x2="661.8" y2="777.5" stroke="#111" stroke-width="1.1" />
<line x1="722.8" y1="774.0" x2="722.8" y2="777.5" stroke="#111" stroke-width="1.1" />
<line x1="783.8" y1="774.0" x2="783.8" y2="777.5" stroke="#111" stroke-width="1.1" />
<text transform="translate(449.5,676) rotate(-90)" font-size="15" font-weight="bold" text-anchor="middle" fill="#111" textLength="98" lengthAdjust="spacingAndGlyphs">Selectivity (%)</text>
<text x="510.8" y="788.6" font-size="11" font-weight="bold" fill="#111" text-anchor="middle" textLength="23" lengthAdjust="spacingAndGlyphs" >BEA</text>
<text x="570.4" y="788.6" font-size="11" font-weight="bold" fill="#111" text-anchor="middle" textLength="20" lengthAdjust="spacingAndGlyphs" >MFI</text>
<text x="692.4" y="788.6" font-size="11" font-weight="bold" fill="#111" text-anchor="middle" textLength="37" lengthAdjust="spacingAndGlyphs" >Pt/BEA</text>
<text x="753" y="788.6" font-size="11" font-weight="bold" fill="#111" text-anchor="middle" textLength="35" lengthAdjust="spacingAndGlyphs" >Pt/MFI</text>
<text x="631.4" y="788.6" font-size="11" font-weight="bold" fill="#111" text-anchor="middle">Pt/SiO<tspan font-size="8" dy="2.5">2</tspan></text>
<text x="483" y="597.5" font-size="9.3" font-weight="bold" fill="#1a8c1a" text-anchor="start" textLength="70" lengthAdjust="spacingAndGlyphs" >Dehydrogenation</text>
<text x="557.3" y="598.8" font-size="9.3" font-weight="bold" fill="#ff32f0" text-anchor="start" textLength="54.5" lengthAdjust="spacingAndGlyphs" >Ring-Opening</text>
<text x="553.6" y="608.8" font-size="9.3" font-weight="bold" fill="#ff32f0" text-anchor="start" textLength="63.6" lengthAdjust="spacingAndGlyphs" >+ Isomerization</text>
<text x="632" y="648" font-size="9.3" font-weight="bold" fill="#1e46f0" text-anchor="start" textLength="73.6" lengthAdjust="spacingAndGlyphs" >Ring-Enlargement</text>
<text x="635.2" y="658" font-size="9.3" font-weight="bold" fill="#1e46f0" text-anchor="start" textLength="67.4" lengthAdjust="spacingAndGlyphs" >+ Hydrogenation</text>
<text x="708.4" y="605" font-size="9.3" font-weight="bold" fill="#8c1e1e" text-anchor="start" textLength="73.6" lengthAdjust="spacingAndGlyphs" >Ring-Enlargement</text>
<text x="705.6" y="615" font-size="9.3" font-weight="bold" fill="#8c1e1e" text-anchor="start" textLength="78" lengthAdjust="spacingAndGlyphs" >+ Dehydrogenation</text>
<g stroke="#33582c" stroke-width="1.8" fill="none" stroke-linejoin="round" stroke-linecap="round">
<path d="M492,603.7 L492,618.7"/><path d="M492,618.7 L505,627.4 L500,641.2 L484.2,641.2 L479.4,627.4 Z"/>
<path d="M493.2,622 L501.5,627.6" stroke="#1f961f" stroke-width="1.5"/>
<path d="M525.6,603.7 L525.6,618.7"/><path d="M525.6,618.7 L538.6,627.4 L533.6,641.2 L517.9,641.2 L513.1,627.4 Z"/>
<path d="M526.8,622 L535.1,627.6" stroke="#1f961f" stroke-width="1.5"/><path d="M520,638.4 L531.6,638.4" stroke="#1f961f" stroke-width="1.5"/>
</g>
<g stroke="#ff2cf0" stroke-width="1.95" fill="none" stroke-linejoin="round" stroke-linecap="round">
<path d="M563.1,614.4 L576,622 L589,614.4 L602.3,622 L614.8,614.4"/><path d="M576,622 L576,636.2"/>
<path d="M563.1,642.4 L576,650 L589,642.4 L602.3,650 L614.8,642.4"/><path d="M589,642.4 L589,628"/>
</g>
<polygon points="668.4,662.9 681.9,669.9 681.9,684.9 668.4,692.4 655.2,684.9 655.2,669.9" fill="none" stroke="#1432f0" stroke-width="1.6" stroke-linejoin="round"/>
<g stroke="#8c1e1e" stroke-width="1.5" fill="none" stroke-linejoin="round" stroke-linecap="round">
<polygon points="743.8,619.9 756.8,626.9 756.8,642.4 743.8,649.9 730.6,642.4 730.6,626.9"/>
<path d="M733.4,628.8 L733.4,640.6"/><path d="M745,623.6 L753.6,628.3"/><path d="M753.6,641.2 L745,646"/>
</g>
</g>
</g>
</svg>
</body></html>
